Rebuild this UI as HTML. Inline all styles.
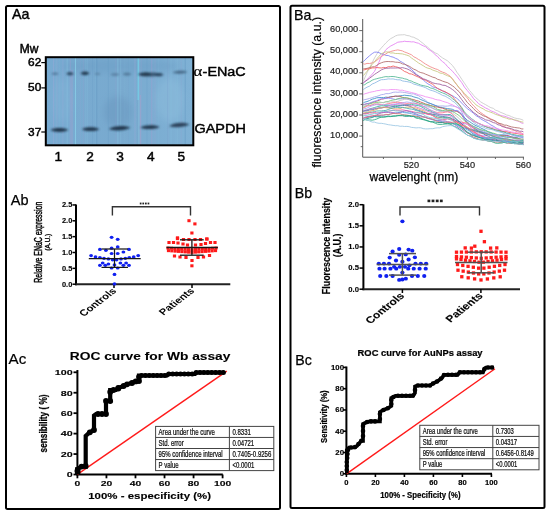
<!DOCTYPE html><html><head><meta charset='utf-8'><style>html,body{margin:0;padding:0;background:#fff;}svg{display:block;font-family:"Liberation Sans",sans-serif;will-change:transform;}</style></head><body>
<svg width='550' height='514' viewBox='0 0 550 514'>
<rect x='6' y='6' width='274' height='503' rx='1.5' fill='none' stroke='#000' stroke-width='2'/>
<rect x='290.5' y='5.7' width='254' height='502.3' rx='1.5' fill='none' stroke='#000' stroke-width='2'/>
<text transform='translate(12.00,19.20)' font-size='14.3' font-weight='normal' text-anchor='start' fill='#000' stroke='#000' stroke-width='0.4' >Aa</text>
<text transform='translate(19.80,52.70)' font-size='12' font-weight='normal' text-anchor='start' fill='#000' stroke='#000' stroke-width='0.45' >Mw</text>
<text transform='translate(41.30,66.00) scale(1.08,1)' font-size='11' font-weight='normal' text-anchor='end' fill='#000' stroke='#000' stroke-width='0.45' >62</text>
<line x1='41.3' y1='62.6' x2='45' y2='62.6' stroke='#000' stroke-width='1.2'/>
<text transform='translate(41.30,91.40) scale(1.08,1)' font-size='11' font-weight='normal' text-anchor='end' fill='#000' stroke='#000' stroke-width='0.45' >50</text>
<line x1='41.3' y1='87.9' x2='45' y2='87.9' stroke='#000' stroke-width='1.2'/>
<text transform='translate(41.30,136.00) scale(1.08,1)' font-size='11' font-weight='normal' text-anchor='end' fill='#000' stroke='#000' stroke-width='0.45' >37</text>
<line x1='41.3' y1='132' x2='45' y2='132' stroke='#000' stroke-width='1.2'/>
<defs><filter id='blur1' x='-50%' y='-100%' width='200%' height='300%'><feGaussianBlur stdDeviation='1.3 1.0'/></filter><filter id='blur2' x='-50%' y='-50%' width='200%' height='200%'><feGaussianBlur stdDeviation='3'/></filter><linearGradient id='blotg' x1='0' y1='0' x2='1' y2='0'><stop offset='0' stop-color='#78abd2'/><stop offset='0.5' stop-color='#79aacf'/><stop offset='1' stop-color='#7fb1d5'/></linearGradient></defs>
<rect x='45.8' y='57.2' width='147.5' height='88.1' fill='url(#blotg)'/>
<g filter='url(#blur2)' opacity='0.55'><ellipse cx='118' cy='112' rx='14' ry='16' fill='#6a98c0'/><ellipse cx='62' cy='100' rx='10' ry='22' fill='#80b2d6'/><ellipse cx='170' cy='100' rx='14' ry='22' fill='#8cbcdc'/><ellipse cx='120' cy='66' rx='60' ry='7' fill='#6d9fc6'/></g>
<line x1='139.7' y1='58' x2='139.7' y2='145' stroke='#8cc8e4' stroke-width='1.09' opacity='0.21'/>
<line x1='67.2' y1='58' x2='67.2' y2='145' stroke='#8cc8e4' stroke-width='1.04' opacity='0.37'/>
<line x1='59.6' y1='58' x2='59.6' y2='145' stroke='#86c0dc' stroke-width='0.53' opacity='0.17'/>
<line x1='80.7' y1='58' x2='80.7' y2='145' stroke='#a49cd0' stroke-width='0.52' opacity='0.20'/>
<line x1='141.2' y1='58' x2='141.2' y2='145' stroke='#a49cd0' stroke-width='0.84' opacity='0.26'/>
<line x1='87.3' y1='58' x2='87.3' y2='145' stroke='#8cc8e4' stroke-width='1.11' opacity='0.19'/>
<line x1='108.3' y1='58' x2='108.3' y2='145' stroke='#5f95c0' stroke-width='0.62' opacity='0.39'/>
<line x1='95.8' y1='58' x2='95.8' y2='145' stroke='#8cc8e4' stroke-width='0.80' opacity='0.24'/>
<line x1='96.9' y1='58' x2='96.9' y2='145' stroke='#5f95c0' stroke-width='1.15' opacity='0.33'/>
<line x1='124.8' y1='58' x2='124.8' y2='145' stroke='#86c0dc' stroke-width='0.56' opacity='0.22'/>
<line x1='138.2' y1='58' x2='138.2' y2='145' stroke='#5f95c0' stroke-width='0.96' opacity='0.33'/>
<line x1='53.6' y1='58' x2='53.6' y2='145' stroke='#9fa8d8' stroke-width='1.12' opacity='0.40'/>
<line x1='171.0' y1='58' x2='171.0' y2='145' stroke='#8cc8e4' stroke-width='0.80' opacity='0.26'/>
<line x1='167.9' y1='58' x2='167.9' y2='145' stroke='#9fa8d8' stroke-width='0.80' opacity='0.20'/>
<line x1='85.7' y1='58' x2='85.7' y2='145' stroke='#8cc8e4' stroke-width='0.99' opacity='0.19'/>
<line x1='152.7' y1='58' x2='152.7' y2='145' stroke='#9fa8d8' stroke-width='0.87' opacity='0.22'/>
<line x1='181.2' y1='58' x2='181.2' y2='145' stroke='#a49cd0' stroke-width='0.68' opacity='0.23'/>
<line x1='158.4' y1='58' x2='158.4' y2='145' stroke='#8cc8e4' stroke-width='0.68' opacity='0.16'/>
<line x1='92.7' y1='58' x2='92.7' y2='145' stroke='#5f95c0' stroke-width='0.55' opacity='0.38'/>
<line x1='129.2' y1='58' x2='129.2' y2='145' stroke='#5f95c0' stroke-width='0.67' opacity='0.27'/>
<line x1='175.3' y1='58' x2='175.3' y2='145' stroke='#86c0dc' stroke-width='0.61' opacity='0.18'/>
<line x1='155.0' y1='58' x2='155.0' y2='145' stroke='#a49cd0' stroke-width='0.71' opacity='0.30'/>
<line x1='177.2' y1='58' x2='177.2' y2='145' stroke='#86c0dc' stroke-width='0.79' opacity='0.40'/>
<line x1='67.1' y1='58' x2='67.1' y2='145' stroke='#86c0dc' stroke-width='0.57' opacity='0.16'/>
<line x1='62.9' y1='58' x2='62.9' y2='145' stroke='#9fa8d8' stroke-width='1.13' opacity='0.26'/>
<line x1='56.2' y1='58' x2='56.2' y2='145' stroke='#86c0dc' stroke-width='0.98' opacity='0.27'/>
<line x1='83.5' y1='58' x2='83.5' y2='145' stroke='#a49cd0' stroke-width='1.19' opacity='0.15'/>
<line x1='151.5' y1='58' x2='151.5' y2='145' stroke='#a49cd0' stroke-width='1.10' opacity='0.34'/>
<line x1='96.3' y1='58' x2='96.3' y2='145' stroke='#5f95c0' stroke-width='0.85' opacity='0.26'/>
<line x1='185.3' y1='58' x2='185.3' y2='145' stroke='#5f95c0' stroke-width='1.28' opacity='0.34'/>
<line x1='120.6' y1='58' x2='120.6' y2='145' stroke='#8cc8e4' stroke-width='1.20' opacity='0.22'/>
<line x1='139.6' y1='58' x2='139.6' y2='145' stroke='#a49cd0' stroke-width='0.66' opacity='0.24'/>
<line x1='70.4' y1='58' x2='70.4' y2='145' stroke='#a49cd0' stroke-width='1.23' opacity='0.30'/>
<line x1='117.8' y1='58' x2='117.8' y2='145' stroke='#8cc8e4' stroke-width='1.24' opacity='0.37'/>
<line x1='167.6' y1='58' x2='167.6' y2='145' stroke='#5f95c0' stroke-width='0.69' opacity='0.21'/>
<line x1='129.3' y1='58' x2='129.3' y2='145' stroke='#8cc8e4' stroke-width='0.57' opacity='0.27'/>
<line x1='57.0' y1='58' x2='57.0' y2='145' stroke='#a49cd0' stroke-width='1.11' opacity='0.18'/>
<line x1='115.9' y1='58' x2='115.9' y2='145' stroke='#a49cd0' stroke-width='0.63' opacity='0.28'/>
<line x1='135.0' y1='58' x2='135.0' y2='145' stroke='#9fa8d8' stroke-width='1.24' opacity='0.34'/>
<line x1='147.0' y1='58' x2='147.0' y2='145' stroke='#5f95c0' stroke-width='0.82' opacity='0.32'/>
<line x1='75.5' y1='58' x2='75.5' y2='145' stroke='#8ad2ea' stroke-width='0.9' opacity='0.8'/>
<line x1='72' y1='70' x2='72' y2='145' stroke='#b69ac8' stroke-width='0.7' opacity='0.7'/>
<line x1='138.2' y1='58' x2='138.2' y2='100' stroke='#78d8ee' stroke-width='1.1' opacity='0.9'/>
<line x1='138.6' y1='100' x2='138.6' y2='145' stroke='#90c8e0' stroke-width='0.8' opacity='0.6'/>
<line x1='140.5' y1='95' x2='140.5' y2='145' stroke='#b89ac8' stroke-width='0.6' opacity='0.6'/>
<g filter='url(#blur1)'>
<path d='M51.2,73.8 C53.1,72.0 56.9,72.0 58.8,73.8 C56.9,75.5 53.1,75.5 51.2,73.8Z' fill='#46698a' opacity='0.7'/>
<path d='M66.2,73.7 C68.1,71.5 71.9,71.5 73.8,73.7 C71.9,76.0 68.1,76.0 66.2,73.7Z' fill='#2a4560' opacity='0.9'/>
<path d='M80.5,73.3 C82.8,70.8 87.2,70.8 89.5,73.3 C87.2,75.8 82.8,75.8 80.5,73.3Z' fill='#213850' opacity='0.95'/>
<path d='M94.3,74.0 C95.9,72.4 99.1,72.4 100.7,74.0 C99.1,75.6 95.9,75.6 94.3,74.0Z' fill='#557a99' opacity='0.65'/>
<path d='M110.0,74.6 C112.5,72.7 117.5,72.7 120.0,74.6 C117.5,76.5 112.5,76.5 110.0,74.6Z' fill='#4b7091' opacity='0.7'/>
<path d='M122.5,74.2 C124.8,72.3 129.2,72.3 131.5,74.2 C129.2,76.1 124.8,76.1 122.5,74.2Z' fill='#46698a' opacity='0.75'/>
<path d='M137.5,74.5 C144.0,71.9 157.0,71.9 163.5,74.5 C157.0,77.1 144.0,77.1 137.5,74.5Z' fill='#2c4862' opacity='0.85'/>
<path d='M138.5,74.3 C141.8,71.5 148.2,71.5 151.5,74.3 C148.2,77.0 141.8,77.0 138.5,74.3Z' fill='#1f3549' opacity='0.85'/>
<path d='M154.5,74.8 C156.8,72.5 161.2,72.5 163.5,74.8 C161.2,77.0 156.8,77.0 154.5,74.8Z' fill='#28405a' opacity='0.8'/>
<path d='M172.5,72.6 C176.2,70.3 183.8,70.0 187.5,72.0 C183.8,74.0 176.2,74.3 172.5,72.6Z' fill='#3a5a78' opacity='0.85'/>
<path d='M50.4,130.0 C54.9,127.4 63.9,127.4 68.4,130.0 C63.9,132.6 54.9,132.6 50.4,130.0Z' fill='#1d3349' opacity='0.95'/>
<path d='M81.8,129.2 C86.2,126.7 95.0,126.7 99.4,129.2 C95.0,131.7 86.2,131.7 81.8,129.2Z' fill='#1d3349' opacity='0.95'/>
<path d='M108.6,129.0 C114.1,125.5 125.1,124.9 130.6,127.8 C125.1,130.7 114.1,131.3 108.6,129.0Z' fill='#1d3349' opacity='0.95'/>
<path d='M140.3,127.4 C145.2,124.6 154.8,124.4 159.7,127.0 C154.8,129.6 145.2,129.8 140.3,127.4Z' fill='#1d3349' opacity='0.95'/>
<path d='M169.0,126.0 C174.1,122.3 184.3,121.5 189.4,124.4 C184.3,127.3 174.1,128.1 169.0,126.0Z' fill='#22384f' opacity='0.9'/>
</g>
<rect x='45.8' y='57.2' width='147.5' height='88.1' fill='none' stroke='#000' stroke-width='2'/>
<text transform='translate(193.60,76.30) scale(1.15,1)' font-size='14.5' font-weight='normal' text-anchor='start' fill='#000' stroke='#000' stroke-width='0.25' font-family='"Liberation Serif", serif'>&#945;</text>
<text transform='translate(202.60,76.30) scale(1.05,1)' font-size='13.7' font-weight='normal' text-anchor='start' fill='#000' stroke='#000' stroke-width='0.45' >-ENaC</text>
<text transform='translate(194.40,133.10) scale(1.08,1)' font-size='13.4' font-weight='normal' text-anchor='start' fill='#000' stroke='#000' stroke-width='0.45' >GAPDH</text>
<text transform='translate(58.30,160.80) scale(1.05,1)' font-size='13' font-weight='normal' text-anchor='middle' fill='#000' stroke='#000' stroke-width='0.45' >1</text>
<text transform='translate(90.00,160.80) scale(1.05,1)' font-size='13' font-weight='normal' text-anchor='middle' fill='#000' stroke='#000' stroke-width='0.45' >2</text>
<text transform='translate(120.00,160.80) scale(1.05,1)' font-size='13' font-weight='normal' text-anchor='middle' fill='#000' stroke='#000' stroke-width='0.45' >3</text>
<text transform='translate(150.70,160.80) scale(1.05,1)' font-size='13' font-weight='normal' text-anchor='middle' fill='#000' stroke='#000' stroke-width='0.45' >4</text>
<text transform='translate(181.30,160.80) scale(1.05,1)' font-size='13' font-weight='normal' text-anchor='middle' fill='#000' stroke='#000' stroke-width='0.45' >5</text>
<text transform='translate(10.80,205.00)' font-size='14.5' font-weight='normal' text-anchor='start' fill='#000' stroke='#000' stroke-width='0.25' >Ab</text>
<text transform='translate(42.00,242.20) scale(1.48,1) rotate(-90)' font-size='6.95' font-weight='normal' text-anchor='middle' fill='#000' stroke='#000' stroke-width='0.3' >Relative ENaC expression</text>
<text transform='translate(50.40,242.20) scale(1.1,1) rotate(-90)' font-size='6.5' font-weight='normal' text-anchor='middle' fill='#000' stroke='#000' stroke-width='0.3' >(A.U.)</text>
<line x1='76' y1='204.4' x2='76' y2='285.2' stroke='#000' stroke-width='2'/>
<line x1='75' y1='284.2' x2='230.3' y2='284.2' stroke='#222' stroke-width='2'/>
<line x1='72.5' y1='284.20' x2='76' y2='284.20' stroke='#000' stroke-width='1.5'/>
<text transform='translate(72.30,286.60) scale(1.16,1)' font-size='6.4' font-weight='bold' text-anchor='end' fill='#000' stroke='#000' stroke-width='0.1' >0.0</text>
<line x1='72.5' y1='268.35' x2='76' y2='268.35' stroke='#000' stroke-width='1.5'/>
<text transform='translate(72.30,270.75) scale(1.16,1)' font-size='6.4' font-weight='bold' text-anchor='end' fill='#000' stroke='#000' stroke-width='0.1' >0.5</text>
<line x1='72.5' y1='252.50' x2='76' y2='252.50' stroke='#000' stroke-width='1.5'/>
<text transform='translate(72.30,254.90) scale(1.16,1)' font-size='6.4' font-weight='bold' text-anchor='end' fill='#000' stroke='#000' stroke-width='0.1' >1.0</text>
<line x1='72.5' y1='236.65' x2='76' y2='236.65' stroke='#000' stroke-width='1.5'/>
<text transform='translate(72.30,239.05) scale(1.16,1)' font-size='6.4' font-weight='bold' text-anchor='end' fill='#000' stroke='#000' stroke-width='0.1' >1.5</text>
<line x1='72.5' y1='220.80' x2='76' y2='220.80' stroke='#000' stroke-width='1.5'/>
<text transform='translate(72.30,223.20) scale(1.16,1)' font-size='6.4' font-weight='bold' text-anchor='end' fill='#000' stroke='#000' stroke-width='0.1' >2.0</text>
<line x1='72.5' y1='204.95' x2='76' y2='204.95' stroke='#000' stroke-width='1.5'/>
<text transform='translate(72.30,207.35) scale(1.16,1)' font-size='6.4' font-weight='bold' text-anchor='end' fill='#000' stroke='#000' stroke-width='0.1' >2.5</text>
<line x1='114' y1='284' x2='114' y2='288' stroke='#000' stroke-width='1.5'/>
<line x1='192' y1='284' x2='192' y2='288' stroke='#000' stroke-width='1.5'/>
<text transform='translate(117.00,291.50) scale(1.3,1) rotate(-45)' font-size='8.8' font-weight='bold' text-anchor='end' fill='#000' >Controls</text>
<text transform='translate(195.00,291.50) scale(1.3,1) rotate(-45)' font-size='8.8' font-weight='bold' text-anchor='end' fill='#000' >Patients</text>
<path d='M112.4 215.4 V206.7 H190.5 V215.4' fill='none' stroke='#333' stroke-width='1.4'/>
<rect x='139.8' y='202.6' width='1.7' height='1.8' fill='#222'/>
<rect x='142.4' y='202.6' width='1.7' height='1.8' fill='#222'/>
<rect x='145.0' y='202.6' width='1.7' height='1.8' fill='#222'/>
<rect x='147.6' y='202.6' width='1.7' height='1.8' fill='#222'/>
<ellipse cx='111.6' cy='237.3' rx='1.9' ry='1.6' fill='#1020f0'/>
<ellipse cx='117.7' cy='239.3' rx='1.9' ry='1.6' fill='#1020f0'/>
<ellipse cx='117.7' cy='246.9' rx='1.9' ry='1.6' fill='#1020f0'/>
<ellipse cx='111.6' cy='248.2' rx='1.9' ry='1.6' fill='#1020f0'/>
<ellipse cx='99.9' cy='249.4' rx='1.9' ry='1.6' fill='#1020f0'/>
<ellipse cx='129' cy='249.4' rx='1.9' ry='1.6' fill='#1020f0'/>
<ellipse cx='105.9' cy='250.3' rx='1.9' ry='1.6' fill='#1020f0'/>
<ellipse cx='123.4' cy='252' rx='1.9' ry='1.6' fill='#1020f0'/>
<ellipse cx='111.6' cy='253.5' rx='1.9' ry='1.6' fill='#1020f0'/>
<ellipse cx='117.7' cy='253.5' rx='1.9' ry='1.6' fill='#1020f0'/>
<ellipse cx='91.1' cy='255.6' rx='1.9' ry='1.6' fill='#1020f0'/>
<ellipse cx='138.2' cy='255.6' rx='1.9' ry='1.6' fill='#1020f0'/>
<ellipse cx='95.5' cy='256.9' rx='1.9' ry='1.6' fill='#1020f0'/>
<ellipse cx='133.7' cy='256.9' rx='1.9' ry='1.6' fill='#1020f0'/>
<ellipse cx='99.9' cy='257.5' rx='1.9' ry='1.6' fill='#1020f0'/>
<ellipse cx='129.3' cy='257.5' rx='1.9' ry='1.6' fill='#1020f0'/>
<ellipse cx='104' cy='258.3' rx='1.9' ry='1.6' fill='#1020f0'/>
<ellipse cx='125.3' cy='258.3' rx='1.9' ry='1.6' fill='#1020f0'/>
<ellipse cx='108.4' cy='258.9' rx='1.9' ry='1.6' fill='#1020f0'/>
<ellipse cx='121' cy='258.9' rx='1.9' ry='1.6' fill='#1020f0'/>
<ellipse cx='112.6' cy='259.8' rx='1.9' ry='1.6' fill='#1020f0'/>
<ellipse cx='116.6' cy='259.8' rx='1.9' ry='1.6' fill='#1020f0'/>
<ellipse cx='102.7' cy='263' rx='1.9' ry='1.6' fill='#1020f0'/>
<ellipse cx='120.4' cy='263' rx='1.9' ry='1.6' fill='#1020f0'/>
<ellipse cx='126.1' cy='263' rx='1.9' ry='1.6' fill='#1020f0'/>
<ellipse cx='108.4' cy='264' rx='1.9' ry='1.6' fill='#1020f0'/>
<ellipse cx='99.9' cy='265.3' rx='1.9' ry='1.6' fill='#1020f0'/>
<ellipse cx='105.3' cy='265.3' rx='1.9' ry='1.6' fill='#1020f0'/>
<ellipse cx='123.4' cy='265.3' rx='1.9' ry='1.6' fill='#1020f0'/>
<ellipse cx='129' cy='265.3' rx='1.9' ry='1.6' fill='#1020f0'/>
<ellipse cx='114.5' cy='264.9' rx='1.9' ry='1.6' fill='#1020f0'/>
<ellipse cx='111.6' cy='268' rx='1.9' ry='1.6' fill='#1020f0'/>
<ellipse cx='117.7' cy='268' rx='1.9' ry='1.6' fill='#1020f0'/>
<ellipse cx='114.5' cy='274.4' rx='1.9' ry='1.6' fill='#1020f0'/>
<ellipse cx='114.5' cy='283.9' rx='1.9' ry='1.6' fill='#1020f0'/>
<g stroke='#181818' stroke-width='1.25'><line x1='88.8' y1='258.5' x2='140.7' y2='258.5'/><line x1='101.5' y1='249' x2='128' y2='249'/><line x1='101.5' y1='267.4' x2='128' y2='267.4'/><line x1='114.5' y1='249' x2='114.5' y2='267.4'/></g>
<rect x='187.40' y='219.20' width='3.2' height='3.0' fill='#ff1a1a'/>
<rect x='193.30' y='222.40' width='3.2' height='3.0' fill='#ff1a1a'/>
<rect x='190.30' y='231.50' width='3.2' height='3.0' fill='#ff1a1a'/>
<rect x='175.90' y='236.30' width='3.2' height='3.0' fill='#ff1a1a'/>
<rect x='205.10' y='237.50' width='3.2' height='3.0' fill='#ff1a1a'/>
<rect x='175.90' y='237.10' width='3.2' height='3.0' fill='#ff1a1a'/>
<rect x='181.90' y='238.00' width='3.2' height='3.0' fill='#ff1a1a'/>
<rect x='187.40' y='238.00' width='3.2' height='3.0' fill='#ff1a1a'/>
<rect x='193.40' y='238.00' width='3.2' height='3.0' fill='#ff1a1a'/>
<rect x='198.90' y='238.00' width='3.2' height='3.0' fill='#ff1a1a'/>
<rect x='205.40' y='237.50' width='3.2' height='3.0' fill='#ff1a1a'/>
<rect x='167.40' y='241.00' width='3.2' height='3.0' fill='#ff1a1a'/>
<rect x='171.90' y='241.00' width='3.2' height='3.0' fill='#ff1a1a'/>
<rect x='176.40' y='241.50' width='3.2' height='3.0' fill='#ff1a1a'/>
<rect x='181.40' y='242.50' width='3.2' height='3.0' fill='#ff1a1a'/>
<rect x='185.90' y='243.50' width='3.2' height='3.0' fill='#ff1a1a'/>
<rect x='193.90' y='243.50' width='3.2' height='3.0' fill='#ff1a1a'/>
<rect x='199.40' y='243.00' width='3.2' height='3.0' fill='#ff1a1a'/>
<rect x='203.90' y='242.00' width='3.2' height='3.0' fill='#ff1a1a'/>
<rect x='208.90' y='241.00' width='3.2' height='3.0' fill='#ff1a1a'/>
<rect x='213.40' y='241.00' width='3.2' height='3.0' fill='#ff1a1a'/>
<rect x='172.90' y='254.50' width='3.2' height='3.0' fill='#ff1a1a'/>
<rect x='178.40' y='255.50' width='3.2' height='3.0' fill='#ff1a1a'/>
<rect x='184.40' y='256.00' width='3.2' height='3.0' fill='#ff1a1a'/>
<rect x='196.40' y='256.00' width='3.2' height='3.0' fill='#ff1a1a'/>
<rect x='201.90' y='255.50' width='3.2' height='3.0' fill='#ff1a1a'/>
<rect x='207.90' y='254.00' width='3.2' height='3.0' fill='#ff1a1a'/>
<rect x='190.40' y='259.00' width='3.2' height='3.0' fill='#ff1a1a'/>
<rect x='190.30' y='264.30' width='3.2' height='3.0' fill='#ff1a1a'/>
<rect x='166.40' y='246.51' width='3.2' height='3.0' fill='#ff1a1a'/>
<rect x='169.83' y='246.76' width='3.2' height='3.0' fill='#ff1a1a'/>
<rect x='173.26' y='247.02' width='3.2' height='3.0' fill='#ff1a1a'/>
<rect x='176.69' y='247.28' width='3.2' height='3.0' fill='#ff1a1a'/>
<rect x='180.11' y='247.54' width='3.2' height='3.0' fill='#ff1a1a'/>
<rect x='183.54' y='247.79' width='3.2' height='3.0' fill='#ff1a1a'/>
<rect x='186.97' y='248.05' width='3.2' height='3.0' fill='#ff1a1a'/>
<rect x='190.40' y='248.29' width='3.2' height='3.0' fill='#ff1a1a'/>
<rect x='193.83' y='248.04' width='3.2' height='3.0' fill='#ff1a1a'/>
<rect x='197.26' y='247.78' width='3.2' height='3.0' fill='#ff1a1a'/>
<rect x='200.69' y='247.52' width='3.2' height='3.0' fill='#ff1a1a'/>
<rect x='204.11' y='247.26' width='3.2' height='3.0' fill='#ff1a1a'/>
<rect x='207.54' y='247.01' width='3.2' height='3.0' fill='#ff1a1a'/>
<rect x='210.97' y='246.75' width='3.2' height='3.0' fill='#ff1a1a'/>
<rect x='214.40' y='246.50' width='3.2' height='3.0' fill='#ff1a1a'/>
<rect x='166.90' y='249.14' width='3.2' height='3.0' fill='#ff1a1a'/>
<rect x='170.26' y='249.40' width='3.2' height='3.0' fill='#ff1a1a'/>
<rect x='173.61' y='249.65' width='3.2' height='3.0' fill='#ff1a1a'/>
<rect x='176.97' y='249.90' width='3.2' height='3.0' fill='#ff1a1a'/>
<rect x='180.33' y='250.15' width='3.2' height='3.0' fill='#ff1a1a'/>
<rect x='183.69' y='250.40' width='3.2' height='3.0' fill='#ff1a1a'/>
<rect x='187.04' y='250.66' width='3.2' height='3.0' fill='#ff1a1a'/>
<rect x='190.40' y='250.89' width='3.2' height='3.0' fill='#ff1a1a'/>
<rect x='193.76' y='250.64' width='3.2' height='3.0' fill='#ff1a1a'/>
<rect x='197.11' y='250.39' width='3.2' height='3.0' fill='#ff1a1a'/>
<rect x='200.47' y='250.14' width='3.2' height='3.0' fill='#ff1a1a'/>
<rect x='203.83' y='249.89' width='3.2' height='3.0' fill='#ff1a1a'/>
<rect x='207.19' y='249.63' width='3.2' height='3.0' fill='#ff1a1a'/>
<rect x='210.54' y='249.38' width='3.2' height='3.0' fill='#ff1a1a'/>
<rect x='213.90' y='249.13' width='3.2' height='3.0' fill='#ff1a1a'/>
<g stroke='#181818' stroke-width='1.3'><line x1='166.5' y1='247.5' x2='217.9' y2='247.5'/><line x1='180' y1='239.8' x2='203.7' y2='239.8'/><line x1='180' y1='255.2' x2='203.7' y2='255.2'/><line x1='191.9' y1='239.8' x2='191.9' y2='255.2'/></g>
<text transform='translate(8.50,363.80) scale(1.05,1)' font-size='14.5' font-weight='normal' text-anchor='start' fill='#000' stroke='#000' stroke-width='0.2' >Ac</text>
<text transform='translate(69.80,360.30) scale(1.35,1)' font-size='10.2' font-weight='bold' text-anchor='start' fill='#000' stroke='#000' stroke-width='0.1' >ROC curve for Wb assay</text>
<line x1='77.4' y1='370' x2='77.4' y2='475.3' stroke='#000' stroke-width='2'/>
<line x1='76.4' y1='474.5' x2='222.8' y2='474.5' stroke='#000' stroke-width='2'/>
<line x1='73.5' y1='474.50' x2='77.4' y2='474.50' stroke='#000' stroke-width='1.8'/>
<text transform='translate(72.70,477.30) scale(1.4,1)' font-size='7.7' font-weight='bold' text-anchor='end' fill='#000' stroke='#000' stroke-width='0.1' >0</text>
<line x1='77.40' y1='474.5' x2='77.40' y2='478.3' stroke='#000' stroke-width='1.8'/>
<text transform='translate(77.40,485.60) scale(1.35,1)' font-size='7.7' font-weight='bold' text-anchor='middle' fill='#000' stroke='#000' stroke-width='0.1' >0</text>
<line x1='73.5' y1='454.06' x2='77.4' y2='454.06' stroke='#000' stroke-width='1.8'/>
<text transform='translate(72.70,456.86) scale(1.4,1)' font-size='7.7' font-weight='bold' text-anchor='end' fill='#000' stroke='#000' stroke-width='0.1' >20</text>
<line x1='106.44' y1='474.5' x2='106.44' y2='478.3' stroke='#000' stroke-width='1.8'/>
<text transform='translate(106.44,485.60) scale(1.35,1)' font-size='7.7' font-weight='bold' text-anchor='middle' fill='#000' stroke='#000' stroke-width='0.1' >20</text>
<line x1='73.5' y1='433.62' x2='77.4' y2='433.62' stroke='#000' stroke-width='1.8'/>
<text transform='translate(72.70,436.42) scale(1.4,1)' font-size='7.7' font-weight='bold' text-anchor='end' fill='#000' stroke='#000' stroke-width='0.1' >40</text>
<line x1='135.48' y1='474.5' x2='135.48' y2='478.3' stroke='#000' stroke-width='1.8'/>
<text transform='translate(135.48,485.60) scale(1.35,1)' font-size='7.7' font-weight='bold' text-anchor='middle' fill='#000' stroke='#000' stroke-width='0.1' >40</text>
<line x1='73.5' y1='413.18' x2='77.4' y2='413.18' stroke='#000' stroke-width='1.8'/>
<text transform='translate(72.70,415.98) scale(1.4,1)' font-size='7.7' font-weight='bold' text-anchor='end' fill='#000' stroke='#000' stroke-width='0.1' >60</text>
<line x1='164.52' y1='474.5' x2='164.52' y2='478.3' stroke='#000' stroke-width='1.8'/>
<text transform='translate(164.52,485.60) scale(1.35,1)' font-size='7.7' font-weight='bold' text-anchor='middle' fill='#000' stroke='#000' stroke-width='0.1' >60</text>
<line x1='73.5' y1='392.74' x2='77.4' y2='392.74' stroke='#000' stroke-width='1.8'/>
<text transform='translate(72.70,395.54) scale(1.4,1)' font-size='7.7' font-weight='bold' text-anchor='end' fill='#000' stroke='#000' stroke-width='0.1' >80</text>
<line x1='193.56' y1='474.5' x2='193.56' y2='478.3' stroke='#000' stroke-width='1.8'/>
<text transform='translate(193.56,485.60) scale(1.35,1)' font-size='7.7' font-weight='bold' text-anchor='middle' fill='#000' stroke='#000' stroke-width='0.1' >80</text>
<line x1='73.5' y1='372.30' x2='77.4' y2='372.30' stroke='#000' stroke-width='1.8'/>
<text transform='translate(72.70,375.10) scale(1.4,1)' font-size='7.7' font-weight='bold' text-anchor='end' fill='#000' stroke='#000' stroke-width='0.1' >100</text>
<line x1='222.60' y1='474.5' x2='222.60' y2='478.3' stroke='#000' stroke-width='1.8'/>
<text transform='translate(222.60,485.60) scale(1.35,1)' font-size='7.7' font-weight='bold' text-anchor='middle' fill='#000' stroke='#000' stroke-width='0.1' >100</text>
<text transform='translate(46.60,423.40) scale(1.3,1) rotate(-90)' font-size='8.3' font-weight='bold' text-anchor='middle' fill='#000' stroke='#000' stroke-width='0.2' >sensibility ( %)</text>
<text transform='translate(88.20,499.00) scale(1.35,1)' font-size='8.5' font-weight='bold' text-anchor='start' fill='#000' stroke='#000' stroke-width='0.1' >100% - especificity (%)</text>
<line x1='77.4' y1='474.3' x2='226.8' y2='371.1' stroke='#ff1a1a' stroke-width='1.4'/>
<path d='M77.4,474.3 V469 L81.5,466.6 H85.7 V436 L89.8,432.3 L94,430 V415.5 L96,414 H106 V401 H110.2 V390 H116 L118.3,388 L123.6,386 L127,384.3 L132,383 L135.7,381.4 L139,381 V375.5 H167 L168.4,374 H195 L197,372.5 H223.5' fill='none' stroke='#000' stroke-width='4.2' stroke-linejoin='miter'/>
<rect x='75' y='467.3' width='5.4' height='7' fill='#000'/>
<circle cx='77.4' cy='471.0' r='2.9' fill='#000'/>
<circle cx='81.5' cy='466.6' r='2.9' fill='#000'/>
<circle cx='85.7' cy='466.0' r='2.9' fill='#000'/>
<circle cx='89.8' cy='432.3' r='2.9' fill='#000'/>
<circle cx='94.0' cy='430.0' r='2.9' fill='#000'/>
<circle cx='98.0' cy='414.0' r='2.9' fill='#000'/>
<circle cx='102.0' cy='414.0' r='2.9' fill='#000'/>
<circle cx='106.0' cy='414.0' r='2.9' fill='#000'/>
<circle cx='106.0' cy='401.0' r='2.9' fill='#000'/>
<circle cx='110.2' cy='401.0' r='2.9' fill='#000'/>
<circle cx='110.2' cy='392.0' r='2.9' fill='#000'/>
<circle cx='113.5' cy='390.0' r='2.9' fill='#000'/>
<circle cx='118.3' cy='388.0' r='2.9' fill='#000'/>
<circle cx='118.3' cy='388.5' r='2.9' fill='#000'/>
<circle cx='123.6' cy='386.0' r='2.9' fill='#000'/>
<circle cx='127.0' cy='384.3' r='2.9' fill='#000'/>
<circle cx='132.0' cy='383.0' r='2.9' fill='#000'/>
<circle cx='135.7' cy='381.4' r='2.9' fill='#000'/>
<circle cx='139.0' cy='381.0' r='2.9' fill='#000'/>
<circle cx='139.0' cy='377.0' r='2.9' fill='#000'/>
<circle cx='141.5' cy='375.5' r='2.5' fill='#000'/>
<circle cx='145.4' cy='375.5' r='2.5' fill='#000'/>
<circle cx='149.3' cy='375.5' r='2.5' fill='#000'/>
<circle cx='153.2' cy='375.5' r='2.5' fill='#000'/>
<circle cx='157.1' cy='375.5' r='2.5' fill='#000'/>
<circle cx='161.0' cy='375.5' r='2.5' fill='#000'/>
<circle cx='164.9' cy='375.5' r='2.5' fill='#000'/>
<circle cx='168.8' cy='374.0' r='2.5' fill='#000'/>
<circle cx='172.7' cy='374.0' r='2.5' fill='#000'/>
<circle cx='176.6' cy='374.0' r='2.5' fill='#000'/>
<circle cx='180.5' cy='374.0' r='2.5' fill='#000'/>
<circle cx='184.4' cy='374.0' r='2.5' fill='#000'/>
<circle cx='188.3' cy='374.0' r='2.5' fill='#000'/>
<circle cx='192.2' cy='374.0' r='2.5' fill='#000'/>
<circle cx='196.1' cy='372.5' r='2.5' fill='#000'/>
<circle cx='200.0' cy='372.5' r='2.5' fill='#000'/>
<circle cx='203.9' cy='372.5' r='2.5' fill='#000'/>
<circle cx='207.8' cy='372.5' r='2.5' fill='#000'/>
<circle cx='211.7' cy='372.5' r='2.5' fill='#000'/>
<circle cx='215.6' cy='372.5' r='2.5' fill='#000'/>
<circle cx='219.5' cy='372.5' r='2.5' fill='#000'/>
<circle cx='223.4' cy='372.5' r='2.5' fill='#000'/>
<rect x='155.6' y='426.4' width='118.20' height='44.20' fill='#fff' stroke='#444' stroke-width='1'/>
<line x1='155.6' y1='437.45' x2='273.8' y2='437.45' stroke='#444' stroke-width='1'/>
<line x1='155.6' y1='448.50' x2='273.8' y2='448.50' stroke='#444' stroke-width='1'/>
<line x1='155.6' y1='459.55' x2='273.8' y2='459.55' stroke='#444' stroke-width='1'/>
<line x1='229.4' y1='426.4' x2='229.4' y2='470.6' stroke='#444' stroke-width='1'/>
<text transform='translate(158.60,434.95) scale(0.72,1)' font-size='8.4' font-weight='normal' text-anchor='start' fill='#111' stroke='#111' stroke-width='0.25' >Area under the curve</text>
<text transform='translate(232.40,434.95) scale(0.72,1)' font-size='8.4' font-weight='normal' text-anchor='start' fill='#111' stroke='#111' stroke-width='0.25' >0.8331</text>
<text transform='translate(158.60,446.00) scale(0.72,1)' font-size='8.4' font-weight='normal' text-anchor='start' fill='#111' stroke='#111' stroke-width='0.25' >Std. error</text>
<text transform='translate(232.40,446.00) scale(0.72,1)' font-size='8.4' font-weight='normal' text-anchor='start' fill='#111' stroke='#111' stroke-width='0.25' >0.04721</text>
<text transform='translate(158.60,457.05) scale(0.72,1)' font-size='8.4' font-weight='normal' text-anchor='start' fill='#111' stroke='#111' stroke-width='0.25' >95% confidence interval</text>
<text transform='translate(232.40,457.05) scale(0.72,1)' font-size='8.4' font-weight='normal' text-anchor='start' fill='#111' stroke='#111' stroke-width='0.25' >0.7405-0.9256</text>
<text transform='translate(158.60,468.10) scale(0.72,1)' font-size='8.4' font-weight='normal' text-anchor='start' fill='#111' stroke='#111' stroke-width='0.25' >P value</text>
<text transform='translate(232.40,468.10) scale(0.72,1)' font-size='8.4' font-weight='normal' text-anchor='start' fill='#111' stroke='#111' stroke-width='0.25' >&lt;0.0001</text>
<text transform='translate(294.00,20.40)' font-size='14.2' font-weight='normal' text-anchor='start' fill='#000' stroke='#000' stroke-width='0.25' >Ba</text>
<text transform='translate(321.20,92.20) rotate(-90)' font-size='12.3' font-weight='normal' text-anchor='middle' fill='#000' stroke='#000' stroke-width='0.2' >fluorescence intensity (a.u.)</text>
<line x1='362.7' y1='19' x2='362.7' y2='157.2' stroke='#555' stroke-width='1'/>
<line x1='362.7' y1='157.2' x2='524' y2='157.2' stroke='#555' stroke-width='1'/>
<line x1='360.7' y1='146.65' x2='362.7' y2='146.65' stroke='#555' stroke-width='0.9'/>
<line x1='359.2' y1='136.10' x2='362.7' y2='136.10' stroke='#555' stroke-width='0.9'/>
<text transform='translate(358.20,137.70)' font-size='9.2' font-weight='normal' text-anchor='end' fill='#222' stroke='#222' stroke-width='0.2' >10,000</text>
<line x1='360.7' y1='125.55' x2='362.7' y2='125.55' stroke='#555' stroke-width='0.9'/>
<line x1='359.2' y1='115.00' x2='362.7' y2='115.00' stroke='#555' stroke-width='0.9'/>
<text transform='translate(358.20,116.60)' font-size='9.2' font-weight='normal' text-anchor='end' fill='#222' stroke='#222' stroke-width='0.2' >20,000</text>
<line x1='360.7' y1='104.45' x2='362.7' y2='104.45' stroke='#555' stroke-width='0.9'/>
<line x1='359.2' y1='93.90' x2='362.7' y2='93.90' stroke='#555' stroke-width='0.9'/>
<text transform='translate(358.20,95.50)' font-size='9.2' font-weight='normal' text-anchor='end' fill='#222' stroke='#222' stroke-width='0.2' >30,000</text>
<line x1='360.7' y1='83.35' x2='362.7' y2='83.35' stroke='#555' stroke-width='0.9'/>
<line x1='359.2' y1='72.80' x2='362.7' y2='72.80' stroke='#555' stroke-width='0.9'/>
<text transform='translate(358.20,74.40)' font-size='9.2' font-weight='normal' text-anchor='end' fill='#222' stroke='#222' stroke-width='0.2' >40,000</text>
<line x1='360.7' y1='62.25' x2='362.7' y2='62.25' stroke='#555' stroke-width='0.9'/>
<line x1='359.2' y1='51.70' x2='362.7' y2='51.70' stroke='#555' stroke-width='0.9'/>
<text transform='translate(358.20,53.30)' font-size='9.2' font-weight='normal' text-anchor='end' fill='#222' stroke='#222' stroke-width='0.2' >50,000</text>
<line x1='360.7' y1='41.15' x2='362.7' y2='41.15' stroke='#555' stroke-width='0.9'/>
<line x1='359.2' y1='30.60' x2='362.7' y2='30.60' stroke='#555' stroke-width='0.9'/>
<text transform='translate(358.20,32.20)' font-size='9.2' font-weight='normal' text-anchor='end' fill='#222' stroke='#222' stroke-width='0.2' >60,000</text>
<line x1='383.42' y1='157.2' x2='383.42' y2='159.0' stroke='#555' stroke-width='0.9'/>
<line x1='411.42' y1='157.2' x2='411.42' y2='159.7' stroke='#555' stroke-width='0.9'/>
<text transform='translate(411.42,168.00)' font-size='9.2' font-weight='normal' text-anchor='middle' fill='#222' stroke='#222' stroke-width='0.2' >520</text>
<line x1='439.42' y1='157.2' x2='439.42' y2='159.0' stroke='#555' stroke-width='0.9'/>
<line x1='467.42' y1='157.2' x2='467.42' y2='159.7' stroke='#555' stroke-width='0.9'/>
<text transform='translate(467.42,168.00)' font-size='9.2' font-weight='normal' text-anchor='middle' fill='#222' stroke='#222' stroke-width='0.2' >540</text>
<line x1='495.42' y1='157.2' x2='495.42' y2='159.0' stroke='#555' stroke-width='0.9'/>
<line x1='523.42' y1='157.2' x2='523.42' y2='159.7' stroke='#555' stroke-width='0.9'/>
<text transform='translate(523.42,168.00)' font-size='9.2' font-weight='normal' text-anchor='middle' fill='#222' stroke='#222' stroke-width='0.2' >560</text>
<text transform='translate(369.50,181.30)' font-size='12' font-weight='normal' text-anchor='start' fill='#000' stroke='#000' stroke-width='0.25' >wavelenght (nm)</text>
<g fill='none' stroke-width='0.85' opacity='0.9' stroke-linejoin='round'>
<path d='M363.3,99.9 L364.8,99.6 L367.0,99.2 L369.6,98.4 L372.2,97.7 L374.5,96.8 L376.8,96.4 L379.0,95.6 L381.3,94.7 L383.7,94.4 L385.9,93.6 L388.2,93.7 L390.7,93.2 L393.1,92.3 L395.5,92.1 L397.8,92.3 L400.1,92.0 L402.4,92.2 L404.6,92.5 L406.9,92.9 L409.2,93.4 L411.5,93.9 L413.8,93.8 L416.1,95.0 L418.4,95.6 L420.8,97.2 L423.2,98.9 L425.6,100.3 L427.9,102.4 L430.2,103.4 L432.8,104.4 L435.2,105.3 L437.6,106.0 L440.0,106.1 L442.5,105.9 L445.1,106.2 L447.6,106.1 L450.1,105.7 L452.4,106.0 L454.6,106.3 L456.8,107.1 L459.0,108.0 L461.8,112.1 L464.4,117.5 L467.4,121.6 L469.4,123.6 L471.4,125.2 L473.6,126.3 L476.0,127.4 L478.6,129.0 L480.8,129.9 L483.2,130.9 L485.7,132.2 L488.3,132.9 L490.9,133.9 L493.3,134.9 L495.4,135.6 L497.9,136.3 L500.0,136.6 L502.0,136.5 L504.1,137.1 L506.6,137.3 L508.9,137.2 L511.5,137.2 L514.3,137.0 L517.1,136.9 L519.7,136.9 L521.9,136.5 L523.4,136.7' stroke='#9a9ae8'/>
<path d='M363.3,103.0 L364.8,102.1 L367.0,101.6 L369.6,100.5 L372.2,99.2 L374.5,98.6 L376.8,97.8 L379.0,97.6 L381.3,97.5 L383.7,97.7 L385.9,97.1 L388.2,97.4 L390.7,96.6 L393.1,96.5 L395.5,96.2 L397.8,96.4 L400.1,95.8 L402.4,95.5 L404.6,95.2 L406.9,95.5 L409.2,95.7 L411.5,96.0 L413.8,96.9 L416.1,97.5 L418.4,98.2 L420.8,99.6 L423.2,100.5 L425.6,101.6 L427.9,102.8 L430.2,103.4 L432.8,104.5 L435.2,105.5 L437.6,106.4 L440.0,107.4 L442.5,107.5 L445.1,108.2 L447.6,108.6 L450.1,108.9 L452.4,109.3 L454.6,110.4 L456.8,110.8 L459.0,112.3 L461.8,114.5 L464.4,117.4 L467.4,120.3 L469.4,121.5 L471.4,122.9 L473.6,124.4 L476.0,125.7 L478.6,126.7 L480.8,128.0 L483.2,129.1 L485.7,130.3 L488.3,131.8 L490.9,132.5 L493.3,133.9 L495.4,134.5 L497.9,135.1 L500.0,134.8 L502.0,134.9 L504.1,134.9 L506.6,135.4 L508.9,136.3 L511.5,136.9 L514.3,137.6 L517.1,137.8 L519.7,138.9 L521.9,139.5 L523.4,139.7' stroke='#2080c0'/>
<path d='M363.3,104.5 L364.8,104.4 L367.0,103.6 L369.6,103.3 L372.2,102.5 L374.5,101.7 L376.8,101.1 L379.0,100.3 L381.3,99.2 L383.7,98.8 L385.9,98.2 L388.2,97.5 L390.7,97.1 L393.1,96.6 L395.5,96.1 L397.8,96.1 L400.1,96.3 L402.4,97.3 L404.6,97.8 L406.9,98.2 L409.2,98.6 L411.5,99.2 L413.8,99.6 L416.1,100.5 L418.4,101.0 L420.8,102.1 L423.2,103.0 L425.6,104.0 L427.9,104.6 L430.2,105.3 L432.8,106.1 L435.2,106.8 L437.6,107.1 L440.0,107.7 L442.5,108.2 L445.1,109.0 L447.6,110.1 L450.1,110.3 L452.4,110.7 L454.6,111.0 L456.8,111.4 L459.0,112.3 L461.8,115.3 L464.4,119.1 L467.4,122.8 L469.4,124.8 L471.4,126.4 L473.6,127.9 L476.0,129.2 L478.6,130.9 L480.8,131.5 L483.2,132.5 L485.7,133.4 L488.3,134.0 L490.9,134.5 L493.3,135.3 L495.4,135.6 L497.9,136.0 L500.0,135.7 L502.0,135.4 L504.1,135.6 L506.6,135.5 L508.9,135.9 L511.5,137.0 L514.3,137.8 L517.1,138.1 L519.7,138.8 L521.9,140.1 L523.4,140.3' stroke='#c04040'/>
<path d='M363.3,104.9 L364.8,104.2 L367.0,103.8 L369.6,103.1 L372.2,102.0 L374.5,101.2 L376.8,100.7 L379.0,99.4 L381.3,98.8 L383.7,98.6 L385.9,98.5 L388.2,98.2 L390.7,98.5 L393.1,98.9 L395.5,99.5 L397.8,98.9 L400.1,98.9 L402.4,98.7 L404.6,98.6 L406.9,99.1 L409.2,99.3 L411.5,100.2 L413.8,101.2 L416.1,102.0 L418.4,102.6 L420.8,103.7 L423.2,104.4 L425.6,105.5 L427.9,106.0 L430.2,106.9 L432.8,108.1 L435.2,109.4 L437.6,110.1 L440.0,110.7 L442.5,111.0 L445.1,111.2 L447.6,111.3 L450.1,111.8 L452.4,111.4 L454.6,110.9 L456.8,110.4 L459.0,111.3 L461.8,114.3 L464.4,119.2 L467.4,123.1 L469.4,125.0 L471.4,126.1 L473.6,127.2 L476.0,128.8 L478.6,129.5 L480.8,131.0 L483.2,132.1 L485.7,132.9 L488.3,134.3 L490.9,135.7 L493.3,136.6 L495.4,136.9 L497.9,137.3 L500.0,137.0 L502.0,136.3 L504.1,136.1 L506.6,136.3 L508.9,136.6 L511.5,137.6 L514.3,138.3 L517.1,139.4 L519.7,139.8 L521.9,140.8 L523.4,141.4' stroke='#8080ff'/>
<path d='M363.3,107.2 L364.8,106.5 L367.0,105.4 L369.6,104.0 L372.2,103.1 L374.5,102.7 L376.8,102.5 L379.0,102.1 L381.3,102.4 L383.7,102.7 L385.9,101.7 L388.2,101.5 L390.7,100.5 L393.1,100.0 L395.5,99.6 L397.8,98.9 L400.1,98.2 L402.4,97.7 L404.6,97.7 L406.9,97.8 L409.2,98.3 L411.5,99.4 L413.8,100.8 L416.1,101.8 L418.4,102.7 L420.8,103.7 L423.2,103.8 L425.6,104.5 L427.9,105.1 L430.2,105.7 L432.8,106.4 L435.2,107.8 L437.6,109.4 L440.0,109.9 L442.5,110.6 L445.1,110.0 L447.6,110.4 L450.1,110.2 L452.4,111.5 L454.6,112.7 L456.8,114.0 L459.0,115.5 L461.8,118.1 L464.4,120.8 L467.4,122.7 L469.4,124.3 L471.4,125.2 L473.6,126.6 L476.0,127.5 L478.6,128.7 L480.8,129.8 L483.2,130.2 L485.7,131.0 L488.3,131.7 L490.9,133.0 L493.3,133.2 L495.4,133.7 L497.9,134.9 L500.0,135.6 L502.0,136.2 L504.1,136.7 L506.6,137.2 L508.9,137.7 L511.5,137.7 L514.3,138.4 L517.1,138.6 L519.7,139.0 L521.9,139.2 L523.4,139.1' stroke='#60c060'/>
<path d='M363.3,105.6 L364.8,105.2 L367.0,105.4 L369.6,105.4 L372.2,104.8 L374.5,104.9 L376.8,104.0 L379.0,103.2 L381.3,102.6 L383.7,102.4 L385.9,101.8 L388.2,102.2 L390.7,102.0 L393.1,101.8 L395.5,101.8 L397.8,101.3 L400.1,100.5 L402.4,99.9 L404.6,99.3 L406.9,98.8 L409.2,99.9 L411.5,100.8 L413.8,102.5 L416.1,103.7 L418.4,104.6 L420.8,105.2 L423.2,106.2 L425.6,106.8 L427.9,107.0 L430.2,107.2 L432.8,108.6 L435.2,109.6 L437.6,110.7 L440.0,111.5 L442.5,111.7 L445.1,111.5 L447.6,111.4 L450.1,112.0 L452.4,113.1 L454.6,114.7 L456.8,116.4 L459.0,118.5 L461.8,121.2 L464.4,124.5 L467.4,127.7 L469.4,129.0 L471.4,130.4 L473.6,131.4 L476.0,132.0 L478.6,133.1 L480.8,133.5 L483.2,133.9 L485.7,134.1 L488.3,134.3 L490.9,134.8 L493.3,135.4 L495.4,135.8 L497.9,136.8 L500.0,137.6 L502.0,138.3 L504.1,139.4 L506.6,139.9 L508.9,140.6 L511.5,140.1 L514.3,140.1 L517.1,139.6 L519.7,139.3 L521.9,139.2 L523.4,138.8' stroke='#b8b8b8'/>
<path d='M363.3,107.9 L364.8,107.5 L367.0,106.0 L369.6,105.8 L372.2,104.9 L374.5,103.8 L376.8,104.2 L379.0,104.5 L381.3,104.4 L383.7,105.0 L385.9,104.2 L388.2,103.7 L390.7,103.2 L393.1,102.7 L395.5,102.5 L397.8,102.2 L400.1,102.5 L402.4,102.6 L404.6,103.0 L406.9,103.4 L409.2,103.2 L411.5,103.4 L413.8,103.8 L416.1,103.5 L418.4,104.2 L420.8,104.8 L423.2,106.5 L425.6,107.4 L427.9,108.7 L430.2,110.2 L432.8,111.0 L435.2,111.9 L437.6,112.6 L440.0,112.9 L442.5,112.8 L445.1,112.2 L447.6,111.9 L450.1,112.5 L452.4,114.3 L454.6,116.9 L456.8,120.0 L459.0,121.4 L461.8,122.3 L464.4,122.5 L467.4,123.3 L469.4,125.1 L471.4,126.8 L473.6,128.6 L476.0,130.5 L478.6,131.8 L480.8,132.6 L483.2,133.4 L485.7,134.4 L488.3,134.8 L490.9,135.7 L493.3,136.2 L495.4,137.0 L497.9,137.8 L500.0,138.3 L502.0,138.5 L504.1,139.3 L506.6,139.9 L508.9,140.1 L511.5,140.2 L514.3,140.6 L517.1,141.2 L519.7,141.6 L521.9,141.8 L523.4,142.0' stroke='#ff6080'/>
<path d='M363.3,109.1 L364.8,108.7 L367.0,108.1 L369.6,106.8 L372.2,105.8 L374.5,105.0 L376.8,104.6 L379.0,105.2 L381.3,105.1 L383.7,104.7 L385.9,104.8 L388.2,104.8 L390.7,104.8 L393.1,104.2 L395.5,104.0 L397.8,103.5 L400.1,103.3 L402.4,102.9 L404.6,102.4 L406.9,101.9 L409.2,102.3 L411.5,102.6 L413.8,103.3 L416.1,104.3 L418.4,104.8 L420.8,105.7 L423.2,106.6 L425.6,107.7 L427.9,108.9 L430.2,109.5 L432.8,111.1 L435.2,112.4 L437.6,113.6 L440.0,114.6 L442.5,115.1 L445.1,114.9 L447.6,114.6 L450.1,115.0 L452.4,116.1 L454.6,117.4 L456.8,119.2 L459.0,121.2 L461.8,123.3 L464.4,125.5 L467.4,127.8 L469.4,129.4 L471.4,131.3 L473.6,132.8 L476.0,134.4 L478.6,135.5 L480.8,135.6 L483.2,135.7 L485.7,135.5 L488.3,134.9 L490.9,134.5 L493.3,134.4 L495.4,134.7 L497.9,135.3 L500.0,136.3 L502.0,137.4 L504.1,138.8 L506.6,139.7 L508.9,140.3 L511.5,140.6 L514.3,140.3 L517.1,140.8 L519.7,141.2 L521.9,141.2 L523.4,141.3' stroke='#a0a0ff'/>
<path d='M363.3,110.4 L364.8,110.4 L367.0,109.9 L369.6,108.9 L372.2,108.2 L374.5,107.5 L376.8,106.8 L379.0,106.3 L381.3,105.8 L383.7,105.9 L385.9,105.3 L388.2,105.3 L390.7,106.0 L393.1,106.0 L395.5,105.4 L397.8,105.4 L400.1,105.5 L402.4,104.8 L404.6,104.6 L406.9,104.6 L409.2,104.6 L411.5,104.3 L413.8,104.9 L416.1,105.4 L418.4,105.7 L420.8,106.5 L423.2,107.8 L425.6,109.3 L427.9,110.4 L430.2,110.9 L432.8,112.4 L435.2,113.1 L437.6,114.2 L440.0,114.8 L442.5,114.6 L445.1,114.7 L447.6,114.6 L450.1,114.5 L452.4,116.0 L454.6,118.1 L456.8,119.5 L459.0,121.5 L461.8,123.9 L464.4,126.1 L467.4,128.3 L469.4,128.6 L471.4,129.4 L473.6,129.8 L476.0,130.0 L478.6,131.2 L480.8,132.0 L483.2,132.8 L485.7,133.3 L488.3,134.5 L490.9,135.1 L493.3,136.4 L495.4,137.1 L497.9,138.3 L500.0,138.7 L502.0,139.6 L504.1,140.1 L506.6,141.2 L508.9,141.1 L511.5,140.8 L514.3,141.1 L517.1,140.7 L519.7,140.5 L521.9,140.7 L523.4,140.4' stroke='#20b090'/>
<path d='M363.3,110.8 L364.8,110.5 L367.0,110.0 L369.6,109.1 L372.2,108.8 L374.5,108.6 L376.8,108.1 L379.0,107.9 L381.3,108.0 L383.7,107.4 L385.9,106.7 L388.2,106.3 L390.7,105.1 L393.1,104.9 L395.5,104.4 L397.8,104.1 L400.1,104.1 L402.4,103.9 L404.6,104.3 L406.9,105.0 L409.2,105.3 L411.5,105.6 L413.8,105.8 L416.1,106.8 L418.4,107.7 L420.8,108.5 L423.2,109.4 L425.6,110.4 L427.9,111.4 L430.2,112.1 L432.8,112.8 L435.2,114.0 L437.6,114.0 L440.0,114.4 L442.5,114.7 L445.1,115.1 L447.6,115.3 L450.1,115.9 L452.4,117.6 L454.6,119.5 L456.8,121.7 L459.0,123.4 L461.8,123.9 L464.4,123.3 L467.4,124.5 L469.4,126.1 L471.4,128.2 L473.6,130.7 L476.0,132.9 L478.6,134.4 L480.8,135.4 L483.2,136.4 L485.7,137.1 L488.3,137.4 L490.9,138.0 L493.3,138.5 L495.4,138.8 L497.9,139.2 L500.0,139.2 L502.0,138.7 L504.1,138.7 L506.6,138.6 L508.9,139.4 L511.5,139.8 L514.3,140.2 L517.1,140.6 L519.7,141.0 L521.9,141.6 L523.4,142.1' stroke='#d060d0'/>
<path d='M363.3,111.7 L364.8,111.0 L367.0,110.9 L369.6,110.0 L372.2,109.7 L374.5,109.1 L376.8,108.8 L379.0,108.0 L381.3,107.9 L383.7,107.5 L385.9,107.0 L388.2,107.4 L390.7,107.2 L393.1,106.5 L395.5,106.7 L397.8,106.3 L400.1,105.9 L402.4,105.6 L404.6,105.5 L406.9,105.4 L409.2,106.1 L411.5,107.1 L413.8,108.5 L416.1,109.5 L418.4,110.4 L420.8,111.0 L423.2,112.0 L425.6,112.8 L427.9,113.4 L430.2,113.5 L432.8,114.3 L435.2,114.7 L437.6,115.4 L440.0,116.2 L442.5,116.4 L445.1,116.8 L447.6,117.1 L450.1,117.8 L452.4,119.0 L454.6,120.0 L456.8,121.0 L459.0,121.6 L461.8,123.9 L464.4,126.3 L467.4,128.6 L469.4,129.2 L471.4,130.0 L473.6,130.4 L476.0,131.2 L478.6,131.9 L480.8,132.8 L483.2,133.5 L485.7,135.3 L488.3,136.2 L490.9,137.6 L493.3,138.2 L495.4,138.8 L497.9,140.2 L500.0,140.4 L502.0,140.5 L504.1,141.3 L506.6,141.5 L508.9,141.1 L511.5,141.9 L514.3,141.5 L517.1,141.6 L519.7,141.7 L521.9,142.4 L523.4,142.2' stroke='#4060a0'/>
<path d='M363.3,113.3 L364.8,112.5 L367.0,112.4 L369.6,111.5 L372.2,110.7 L374.5,110.3 L376.8,109.2 L379.0,108.4 L381.3,107.8 L383.7,107.3 L385.9,107.7 L388.2,107.9 L390.7,108.3 L393.1,108.7 L395.5,108.8 L397.8,108.9 L400.1,108.6 L402.4,107.6 L404.6,107.5 L406.9,107.0 L409.2,107.3 L411.5,107.1 L413.8,107.7 L416.1,108.0 L418.4,109.0 L420.8,109.9 L423.2,110.6 L425.6,112.0 L427.9,113.5 L430.2,114.4 L432.8,115.5 L435.2,117.0 L437.6,117.7 L440.0,117.6 L442.5,117.7 L445.1,117.9 L447.6,118.0 L450.1,118.3 L452.4,119.4 L454.6,121.3 L456.8,123.1 L459.0,124.6 L461.8,125.7 L464.4,125.6 L467.4,127.1 L469.4,128.4 L471.4,129.7 L473.6,131.9 L476.0,133.2 L478.6,135.3 L480.8,136.1 L483.2,136.9 L485.7,137.8 L488.3,138.9 L490.9,139.2 L493.3,139.7 L495.4,140.4 L497.9,140.8 L500.0,140.2 L502.0,140.3 L504.1,139.8 L506.6,140.0 L508.9,140.0 L511.5,140.6 L514.3,140.7 L517.1,141.3 L519.7,141.7 L521.9,141.4 L523.4,141.8' stroke='#e0a050'/>
<path d='M363.3,113.7 L364.8,113.5 L367.0,113.0 L369.6,112.5 L372.2,112.1 L374.5,111.6 L376.8,111.0 L379.0,110.9 L381.3,110.9 L383.7,110.6 L385.9,110.4 L388.2,109.5 L390.7,108.6 L393.1,107.8 L395.5,107.3 L397.8,107.4 L400.1,107.7 L402.4,107.4 L404.6,107.9 L406.9,108.2 L409.2,108.8 L411.5,109.1 L413.8,109.6 L416.1,110.6 L418.4,111.0 L420.8,111.9 L423.2,112.7 L425.6,113.1 L427.9,114.0 L430.2,114.5 L432.8,114.9 L435.2,115.9 L437.6,116.9 L440.0,117.4 L442.5,117.2 L445.1,117.6 L447.6,117.5 L450.1,117.9 L452.4,119.6 L454.6,121.5 L456.8,124.1 L459.0,125.6 L461.8,127.1 L464.4,127.9 L467.4,128.6 L469.4,130.1 L471.4,132.2 L473.6,134.3 L476.0,135.6 L478.6,137.0 L480.8,137.6 L483.2,137.6 L485.7,137.5 L488.3,138.0 L490.9,137.8 L493.3,137.7 L495.4,137.8 L497.9,137.7 L500.0,138.2 L502.0,138.4 L504.1,138.8 L506.6,139.0 L508.9,139.3 L511.5,140.1 L514.3,140.7 L517.1,141.2 L519.7,141.9 L521.9,141.9 L523.4,142.3' stroke='#30a0a0'/>
<path d='M363.3,113.6 L364.8,114.0 L367.0,113.7 L369.6,112.9 L372.2,113.0 L374.5,112.5 L376.8,112.9 L379.0,112.8 L381.3,112.3 L383.7,112.3 L385.9,111.9 L388.2,111.2 L390.7,110.8 L393.1,110.3 L395.5,110.1 L397.8,110.3 L400.1,110.2 L402.4,109.8 L404.6,110.2 L406.9,110.8 L409.2,111.0 L411.5,111.4 L413.8,111.9 L416.1,112.4 L418.4,112.6 L420.8,113.1 L423.2,113.4 L425.6,113.7 L427.9,114.5 L430.2,114.6 L432.8,115.7 L435.2,117.3 L437.6,118.6 L440.0,119.0 L442.5,119.6 L445.1,119.5 L447.6,118.9 L450.1,119.6 L452.4,119.8 L454.6,121.0 L456.8,121.9 L459.0,123.0 L461.8,124.9 L464.4,126.7 L467.4,128.0 L469.4,129.4 L471.4,130.9 L473.6,132.3 L476.0,133.3 L478.6,135.0 L480.8,135.5 L483.2,137.0 L485.7,137.8 L488.3,138.7 L490.9,139.7 L493.3,140.0 L495.4,140.5 L497.9,141.4 L500.0,141.8 L502.0,142.0 L504.1,142.0 L506.6,142.1 L508.9,142.2 L511.5,142.9 L514.3,143.1 L517.1,143.6 L519.7,143.9 L521.9,144.0 L523.4,144.2' stroke='#ff4090'/>
<path d='M363.3,115.8 L364.8,115.4 L367.0,115.3 L369.6,114.5 L372.2,114.2 L374.5,113.4 L376.8,113.4 L379.0,112.7 L381.3,112.0 L383.7,111.4 L385.9,111.6 L388.2,111.3 L390.7,110.7 L393.1,110.3 L395.5,110.9 L397.8,111.0 L400.1,111.0 L402.4,111.1 L404.6,112.0 L406.9,112.4 L409.2,112.1 L411.5,112.2 L413.8,112.6 L416.1,112.7 L418.4,113.2 L420.8,113.7 L423.2,114.4 L425.6,116.0 L427.9,116.9 L430.2,117.7 L432.8,118.0 L435.2,118.4 L437.6,119.1 L440.0,119.4 L442.5,118.8 L445.1,118.7 L447.6,118.7 L450.1,119.6 L452.4,120.5 L454.6,122.1 L456.8,124.3 L459.0,126.3 L461.8,128.0 L464.4,129.7 L467.4,131.6 L469.4,133.0 L471.4,134.3 L473.6,135.4 L476.0,136.4 L478.6,137.4 L480.8,137.7 L483.2,137.9 L485.7,137.8 L488.3,138.2 L490.9,138.3 L493.3,138.1 L495.4,138.1 L497.9,138.8 L500.0,139.3 L502.0,140.1 L504.1,140.8 L506.6,141.7 L508.9,141.3 L511.5,141.7 L514.3,141.4 L517.1,141.6 L519.7,142.0 L521.9,141.9 L523.4,141.7' stroke='#60c0d0'/>
<path d='M363.3,118.0 L364.8,117.2 L367.0,116.7 L369.6,116.2 L372.2,116.0 L374.5,115.6 L376.8,114.9 L379.0,113.8 L381.3,113.0 L383.7,112.5 L385.9,112.3 L388.2,112.5 L390.7,112.4 L393.1,112.5 L395.5,113.1 L397.8,112.7 L400.1,112.2 L402.4,111.5 L404.6,111.0 L406.9,110.6 L409.2,111.5 L411.5,112.0 L413.8,113.1 L416.1,114.0 L418.4,114.9 L420.8,115.7 L423.2,116.7 L425.6,117.3 L427.9,118.4 L430.2,118.9 L432.8,119.6 L435.2,120.2 L437.6,120.5 L440.0,120.7 L442.5,121.0 L445.1,120.9 L447.6,121.7 L450.1,122.0 L452.4,123.0 L454.6,124.7 L456.8,125.9 L459.0,127.5 L461.8,128.9 L464.4,131.0 L467.4,132.9 L469.4,133.6 L471.4,134.8 L473.6,135.5 L476.0,136.5 L478.6,137.1 L480.8,137.6 L483.2,138.5 L485.7,138.8 L488.3,139.4 L490.9,139.4 L493.3,139.7 L495.4,140.3 L497.9,140.8 L500.0,140.9 L502.0,141.3 L504.1,142.1 L506.6,142.0 L508.9,142.3 L511.5,143.1 L514.3,143.3 L517.1,143.4 L519.7,143.1 L521.9,143.7 L523.4,143.5' stroke='#9050c0'/>
<path d='M363.3,118.6 L364.8,118.1 L367.0,117.8 L369.6,116.8 L372.2,116.7 L374.5,116.4 L376.8,115.9 L379.0,115.7 L381.3,115.4 L383.7,115.2 L385.9,114.9 L388.2,114.6 L390.7,113.9 L393.1,113.4 L395.5,113.0 L397.8,113.1 L400.1,112.6 L402.4,112.3 L404.6,112.7 L406.9,112.9 L409.2,113.4 L411.5,113.7 L413.8,114.4 L416.1,114.9 L418.4,115.6 L420.8,115.9 L423.2,116.9 L425.6,117.5 L427.9,118.3 L430.2,118.8 L432.8,119.8 L435.2,120.2 L437.6,120.7 L440.0,121.2 L442.5,121.8 L445.1,121.9 L447.6,122.5 L450.1,122.9 L452.4,123.3 L454.6,124.1 L456.8,125.0 L459.0,125.4 L461.8,126.9 L464.4,128.3 L467.4,129.9 L469.4,131.1 L471.4,132.7 L473.6,133.9 L476.0,134.9 L478.6,135.8 L480.8,137.1 L483.2,137.7 L485.7,138.2 L488.3,139.2 L490.9,139.7 L493.3,140.9 L495.4,140.8 L497.9,141.2 L500.0,140.9 L502.0,141.3 L504.1,141.0 L506.6,140.8 L508.9,141.6 L511.5,142.3 L514.3,142.7 L517.1,143.4 L519.7,144.3 L521.9,144.4 L523.4,144.8' stroke='#5090e0'/>
<path d='M363.3,118.3 L364.8,117.9 L367.0,117.4 L369.6,116.6 L372.2,116.1 L374.5,115.4 L376.8,115.4 L379.0,115.2 L381.3,115.0 L383.7,115.1 L385.9,114.3 L388.2,114.7 L390.7,114.0 L393.1,113.5 L395.5,113.6 L397.8,113.8 L400.1,113.7 L402.4,114.6 L404.6,114.9 L406.9,115.2 L409.2,115.5 L411.5,115.9 L413.8,115.8 L416.1,116.2 L418.4,116.7 L420.8,117.1 L423.2,116.9 L425.6,117.3 L427.9,118.3 L430.2,118.7 L432.8,119.2 L435.2,120.4 L437.6,121.6 L440.0,122.3 L442.5,122.4 L445.1,122.3 L447.6,122.2 L450.1,122.4 L452.4,122.2 L454.6,122.3 L456.8,121.9 L459.0,123.0 L461.8,126.1 L464.4,129.6 L467.4,132.7 L469.4,134.1 L471.4,135.8 L473.6,137.1 L476.0,137.9 L478.6,139.0 L480.8,139.5 L483.2,140.1 L485.7,140.3 L488.3,141.0 L490.9,141.3 L493.3,141.8 L495.4,142.1 L497.9,142.0 L500.0,142.4 L502.0,142.5 L504.1,142.5 L506.6,142.8 L508.9,143.5 L511.5,143.3 L514.3,143.4 L517.1,143.8 L519.7,144.2 L521.9,144.5 L523.4,144.4' stroke='#e06060'/>
<path d='M363.3,120.4 L364.8,119.5 L367.0,118.7 L369.6,118.0 L372.2,117.5 L374.5,116.6 L376.8,116.8 L379.0,116.7 L381.3,116.9 L383.7,117.0 L385.9,116.8 L388.2,116.6 L390.7,116.6 L393.1,116.3 L395.5,116.0 L397.8,115.6 L400.1,115.7 L402.4,115.7 L404.6,116.3 L406.9,116.4 L409.2,116.2 L411.5,116.6 L413.8,116.3 L416.1,117.2 L418.4,117.1 L420.8,118.4 L423.2,119.1 L425.6,120.3 L427.9,121.1 L430.2,121.5 L432.8,121.7 L435.2,122.0 L437.6,122.5 L440.0,122.6 L442.5,122.5 L445.1,123.4 L447.6,123.4 L450.1,124.0 L452.4,125.5 L454.6,126.6 L456.8,127.4 L459.0,129.0 L461.8,130.6 L464.4,132.8 L467.4,135.2 L469.4,135.8 L471.4,136.7 L473.6,138.1 L476.0,138.7 L478.6,139.5 L480.8,139.8 L483.2,139.9 L485.7,139.6 L488.3,139.8 L490.9,140.3 L493.3,140.2 L495.4,140.1 L497.9,140.9 L500.0,141.5 L502.0,141.5 L504.1,142.3 L506.6,142.9 L508.9,142.5 L511.5,143.0 L514.3,142.8 L517.1,143.1 L519.7,142.6 L521.9,143.0 L523.4,143.0' stroke='#008878'/>
<path d='M363.3,120.1 L364.8,119.6 L367.0,120.1 L369.6,119.9 L372.2,120.2 L374.5,119.7 L376.8,119.0 L379.0,117.9 L381.3,117.2 L383.7,117.0 L385.9,116.7 L388.2,116.0 L390.7,116.3 L393.1,115.9 L395.5,116.0 L397.8,115.7 L400.1,115.3 L402.4,115.2 L404.6,115.3 L406.9,115.4 L409.2,115.6 L411.5,116.0 L413.8,116.7 L416.1,118.1 L418.4,118.5 L420.8,119.1 L423.2,119.7 L425.6,120.0 L427.9,120.7 L430.2,121.8 L432.8,122.2 L435.2,123.2 L437.6,124.2 L440.0,124.4 L442.5,124.3 L445.1,124.0 L447.6,123.9 L450.1,123.8 L452.4,123.8 L454.6,123.7 L456.8,124.0 L459.0,124.8 L461.8,126.9 L464.4,129.8 L467.4,132.5 L469.4,133.4 L471.4,134.9 L473.6,135.3 L476.0,136.4 L478.6,137.2 L480.8,138.1 L483.2,138.6 L485.7,140.3 L488.3,141.1 L490.9,141.3 L493.3,142.2 L495.4,143.1 L497.9,143.3 L500.0,143.1 L502.0,143.0 L504.1,142.3 L506.6,142.7 L508.9,142.5 L511.5,142.9 L514.3,143.7 L517.1,143.6 L519.7,144.0 L521.9,144.4 L523.4,144.5' stroke='#10a070'/>
<path d='M363.3,81.3 L364.8,77.8 L367.0,72.8 L369.6,67.6 L372.2,62.6 L374.5,58.0 L376.8,54.1 L379.0,50.6 L381.3,48.0 L383.7,45.3 L385.9,42.9 L388.2,40.7 L390.7,38.6 L393.1,37.4 L395.5,35.9 L397.8,35.1 L400.1,34.9 L402.4,34.8 L404.6,34.7 L406.9,35.5 L409.2,35.8 L411.5,36.8 L413.8,37.3 L416.1,38.5 L418.4,39.6 L420.8,41.7 L423.2,43.5 L425.6,45.6 L427.9,47.3 L430.2,49.5 L432.8,51.2 L435.2,52.9 L437.6,53.9 L440.0,56.1 L442.5,57.9 L445.1,59.4 L447.6,60.9 L450.1,63.2 L452.4,65.5 L454.6,68.4 L456.8,72.1 L459.0,75.0 L461.8,79.3 L464.4,83.1 L467.4,87.5 L469.4,90.4 L471.4,92.5 L473.6,95.4 L476.0,97.9 L478.6,100.0 L480.8,102.0 L483.2,103.4 L485.7,104.7 L488.3,106.3 L490.9,107.7 L493.3,108.3 L495.4,110.1 L497.9,110.9 L500.0,112.1 L502.0,112.9 L504.1,113.7 L506.6,115.0 L508.9,115.5 L511.5,116.7 L514.3,117.8 L517.1,118.6 L519.7,118.9 L521.9,119.6 L523.4,120.3' stroke='#c4c4c4'/>
<path d='M363.3,82.9 L364.8,81.7 L367.0,79.5 L369.6,77.0 L372.2,74.1 L374.5,71.4 L376.8,66.7 L379.0,62.1 L381.3,56.6 L383.7,52.9 L385.9,49.7 L388.2,47.8 L390.7,46.0 L393.1,44.8 L395.5,43.5 L397.8,42.2 L400.1,41.9 L402.4,41.7 L404.6,41.2 L406.9,41.6 L409.2,41.6 L411.5,41.9 L413.8,41.8 L416.1,42.7 L418.4,43.2 L420.8,44.6 L423.2,45.8 L425.6,46.7 L427.9,48.9 L430.2,50.4 L432.8,52.1 L435.2,54.8 L437.6,56.5 L440.0,59.4 L442.5,61.6 L445.1,63.6 L447.6,66.7 L450.1,68.9 L452.4,71.2 L454.6,73.7 L456.8,76.2 L459.0,79.1 L461.8,82.7 L464.4,87.0 L467.4,90.7 L469.4,93.0 L471.4,95.5 L473.6,98.7 L476.0,100.8 L478.6,103.7 L480.8,105.1 L483.2,106.5 L485.7,108.0 L488.3,109.2 L490.9,110.9 L493.3,111.7 L495.4,112.6 L497.9,114.1 L500.0,115.1 L502.0,115.9 L504.1,116.1 L506.6,116.9 L508.9,117.9 L511.5,118.7 L514.3,120.1 L517.1,120.9 L519.7,121.9 L521.9,123.1 L523.4,123.4' stroke='#e070f0'/>
<path d='M363.3,61.7 L364.8,60.1 L367.0,58.0 L369.6,55.7 L372.2,53.6 L374.5,52.2 L376.8,52.1 L379.0,52.7 L381.3,53.8 L383.7,54.3 L385.9,55.4 L388.2,55.5 L390.7,56.6 L393.1,57.1 L395.5,58.3 L397.8,59.3 L400.1,61.2 L402.4,62.4 L404.6,63.8 L406.9,65.7 L409.2,67.6 L411.5,69.4 L413.8,71.9 L416.1,73.7 L418.4,76.1 L420.8,78.2 L423.2,79.9 L425.6,82.1 L427.9,83.9 L430.2,85.0 L432.8,86.9 L435.2,87.5 L437.6,88.5 L440.0,89.5 L442.5,90.7 L445.1,92.3 L447.6,93.2 L450.1,94.8 L452.4,95.6 L454.6,97.0 L456.8,98.3 L459.0,100.2 L461.8,103.2 L464.4,105.8 L467.4,108.8 L469.4,110.1 L471.4,111.6 L473.6,113.4 L476.0,115.6 L478.6,117.2 L480.8,118.9 L483.2,120.3 L485.7,121.6 L488.3,123.2 L490.9,125.0 L493.3,126.2 L495.4,127.6 L497.9,129.1 L500.0,130.0 L502.0,131.4 L504.1,131.7 L506.6,133.2 L508.9,133.4 L511.5,134.8 L514.3,135.2 L517.1,135.8 L519.7,136.9 L521.9,137.5 L523.4,137.8' stroke='#7070f0'/>
<path d='M363.3,63.8 L364.8,64.2 L367.0,63.4 L369.6,63.5 L372.2,62.9 L374.5,61.7 L376.8,60.4 L379.0,58.4 L381.3,56.5 L383.7,55.1 L385.9,53.9 L388.2,52.3 L390.7,51.5 L393.1,50.8 L395.5,50.3 L397.8,49.9 L400.1,50.4 L402.4,50.9 L404.6,52.0 L406.9,52.8 L409.2,53.8 L411.5,54.8 L413.8,56.8 L416.1,57.9 L418.4,59.4 L420.8,60.7 L423.2,62.5 L425.6,64.1 L427.9,65.4 L430.2,66.7 L432.8,67.8 L435.2,68.8 L437.6,69.5 L440.0,71.0 L442.5,72.1 L445.1,73.0 L447.6,74.5 L450.1,76.2 L452.4,78.7 L454.6,81.6 L456.8,84.8 L459.0,87.7 L461.8,90.8 L464.4,94.7 L467.4,98.0 L469.4,100.7 L471.4,103.4 L473.6,105.8 L476.0,108.2 L478.6,110.8 L480.8,112.7 L483.2,114.3 L485.7,116.0 L488.3,117.5 L490.9,118.9 L493.3,120.1 L495.4,121.1 L497.9,123.2 L500.0,123.8 L502.0,125.6 L504.1,126.6 L506.6,127.5 L508.9,128.4 L511.5,129.8 L514.3,130.4 L517.1,131.7 L519.7,132.4 L521.9,133.2 L523.4,134.0' stroke='#f07878'/>
<path d='M363.3,75.7 L364.8,73.9 L367.0,71.3 L369.6,67.8 L372.2,64.4 L374.5,61.9 L376.8,58.8 L379.0,56.3 L381.3,53.8 L383.7,52.7 L385.9,51.8 L388.2,52.1 L390.7,53.0 L393.1,52.9 L395.5,53.5 L397.8,53.5 L400.1,53.7 L402.4,53.9 L404.6,54.5 L406.9,55.2 L409.2,56.0 L411.5,58.0 L413.8,59.6 L416.1,61.2 L418.4,62.9 L420.8,64.3 L423.2,65.7 L425.6,67.3 L427.9,68.2 L430.2,68.7 L432.8,70.1 L435.2,70.9 L437.6,71.7 L440.0,73.1 L442.5,73.4 L445.1,74.7 L447.6,75.8 L450.1,76.7 L452.4,79.1 L454.6,82.2 L456.8,84.6 L459.0,87.5 L461.8,90.3 L464.4,93.4 L467.4,96.2 L469.4,98.2 L471.4,100.1 L473.6,102.2 L476.0,104.9 L478.6,106.4 L480.8,107.7 L483.2,108.8 L485.7,110.5 L488.3,111.4 L490.9,112.3 L493.3,113.2 L495.4,114.3 L497.9,115.1 L500.0,115.8 L502.0,116.8 L504.1,117.5 L506.6,118.2 L508.9,119.1 L511.5,119.1 L514.3,119.8 L517.1,120.4 L519.7,121.4 L521.9,121.9 L523.4,122.2' stroke='#c0c070'/>
<path d='M363.3,68.8 L364.8,68.7 L367.0,68.4 L369.6,67.6 L372.2,66.9 L374.5,66.7 L376.8,65.4 L379.0,63.8 L381.3,62.8 L383.7,62.0 L385.9,61.6 L388.2,61.5 L390.7,61.7 L393.1,61.7 L395.5,62.2 L397.8,62.3 L400.1,62.7 L402.4,63.9 L404.6,64.3 L406.9,65.2 L409.2,66.2 L411.5,67.7 L413.8,69.2 L416.1,70.1 L418.4,71.6 L420.8,72.6 L423.2,73.1 L425.6,74.2 L427.9,75.1 L430.2,76.1 L432.8,77.2 L435.2,77.8 L437.6,79.3 L440.0,80.0 L442.5,81.1 L445.1,82.0 L447.6,82.7 L450.1,84.3 L452.4,85.8 L454.6,87.4 L456.8,89.8 L459.0,91.5 L461.8,95.4 L464.4,98.4 L467.4,102.6 L469.4,104.5 L471.4,106.4 L473.6,108.7 L476.0,111.2 L478.6,113.0 L480.8,114.3 L483.2,115.7 L485.7,116.6 L488.3,118.1 L490.9,119.6 L493.3,120.2 L495.4,121.3 L497.9,122.8 L500.0,123.6 L502.0,124.0 L504.1,125.1 L506.6,125.2 L508.9,126.1 L511.5,126.9 L514.3,127.4 L517.1,127.8 L519.7,128.1 L521.9,129.0 L523.4,128.9' stroke='#a85858'/>
<path d='M363.3,70.0 L364.8,69.7 L367.0,69.0 L369.6,68.8 L372.2,67.9 L374.5,67.9 L376.8,67.5 L379.0,67.8 L381.3,68.0 L383.7,67.4 L385.9,67.8 L388.2,66.7 L390.7,66.8 L393.1,66.0 L395.5,66.7 L397.8,67.3 L400.1,68.4 L402.4,69.9 L404.6,71.5 L406.9,72.3 L409.2,73.7 L411.5,74.0 L413.8,75.0 L416.1,76.1 L418.4,77.1 L420.8,78.3 L423.2,79.4 L425.6,80.3 L427.9,81.6 L430.2,82.9 L432.8,84.4 L435.2,86.6 L437.6,88.4 L440.0,89.7 L442.5,90.9 L445.1,91.6 L447.6,93.2 L450.1,94.5 L452.4,96.4 L454.6,99.2 L456.8,101.7 L459.0,104.1 L461.8,108.7 L464.4,113.0 L467.4,116.8 L469.4,118.6 L471.4,120.2 L473.6,121.5 L476.0,122.0 L478.6,123.4 L480.8,124.5 L483.2,125.2 L485.7,126.7 L488.3,127.4 L490.9,128.4 L493.3,128.8 L495.4,129.8 L497.9,130.3 L500.0,130.6 L502.0,131.2 L504.1,131.7 L506.6,131.6 L508.9,132.4 L511.5,132.8 L514.3,133.3 L517.1,133.5 L519.7,134.2 L521.9,134.2 L523.4,134.8' stroke='#f04848'/>
<path d='M363.3,83.0 L364.8,81.6 L367.0,80.2 L369.6,78.2 L372.2,76.3 L374.5,74.4 L376.8,72.9 L379.0,71.5 L381.3,69.9 L383.7,68.9 L385.9,68.2 L388.2,68.2 L390.7,68.0 L393.1,68.0 L395.5,68.0 L397.8,67.9 L400.1,68.0 L402.4,67.6 L404.6,68.2 L406.9,68.8 L409.2,69.9 L411.5,71.4 L413.8,73.0 L416.1,74.8 L418.4,75.8 L420.8,77.2 L423.2,78.8 L425.6,79.5 L427.9,80.6 L430.2,81.5 L432.8,82.9 L435.2,83.5 L437.6,83.9 L440.0,84.2 L442.5,85.2 L445.1,85.4 L447.6,86.6 L450.1,87.9 L452.4,89.5 L454.6,91.1 L456.8,93.5 L459.0,95.9 L461.8,99.7 L464.4,103.2 L467.4,106.5 L469.4,108.4 L471.4,110.2 L473.6,112.6 L476.0,114.1 L478.6,116.2 L480.8,117.3 L483.2,118.4 L485.7,119.9 L488.3,120.3 L490.9,121.4 L493.3,122.6 L495.4,123.1 L497.9,124.8 L500.0,125.1 L502.0,126.5 L504.1,127.0 L506.6,127.9 L508.9,128.1 L511.5,128.7 L514.3,130.0 L517.1,130.3 L519.7,131.3 L521.9,131.2 L523.4,131.9' stroke='#904890'/>
<path d='M363.3,85.0 L364.8,84.7 L367.0,83.0 L369.6,81.9 L372.2,80.2 L374.5,79.3 L376.8,78.7 L379.0,78.1 L381.3,77.6 L383.7,77.0 L385.9,76.6 L388.2,76.8 L390.7,76.5 L393.1,76.5 L395.5,76.8 L397.8,77.4 L400.1,77.8 L402.4,78.1 L404.6,78.8 L406.9,79.3 L409.2,80.5 L411.5,81.1 L413.8,82.3 L416.1,83.1 L418.4,84.1 L420.8,85.1 L423.2,85.6 L425.6,86.1 L427.9,86.6 L430.2,87.9 L432.8,88.5 L435.2,89.5 L437.6,90.7 L440.0,91.9 L442.5,92.9 L445.1,93.9 L447.6,95.3 L450.1,96.6 L452.4,98.6 L454.6,100.4 L456.8,102.5 L459.0,104.3 L461.8,107.6 L464.4,111.8 L467.4,115.2 L469.4,116.7 L471.4,118.6 L473.6,120.0 L476.0,122.1 L478.6,123.4 L480.8,124.2 L483.2,125.8 L485.7,126.6 L488.3,127.7 L490.9,128.1 L493.3,129.3 L495.4,129.9 L497.9,130.4 L500.0,131.3 L502.0,131.9 L504.1,132.1 L506.6,133.1 L508.9,133.3 L511.5,134.3 L514.3,134.7 L517.1,135.3 L519.7,135.6 L521.9,135.7 L523.4,136.1' stroke='#40b088'/>
<path d='M363.3,89.6 L364.8,88.5 L367.0,87.2 L369.6,86.1 L372.2,84.0 L374.5,83.1 L376.8,81.9 L379.0,80.7 L381.3,79.7 L383.7,79.6 L385.9,79.4 L388.2,78.9 L390.7,79.0 L393.1,78.9 L395.5,79.5 L397.8,79.8 L400.1,79.8 L402.4,80.9 L404.6,81.3 L406.9,81.6 L409.2,82.1 L411.5,82.8 L413.8,84.1 L416.1,84.7 L418.4,85.5 L420.8,86.1 L423.2,86.8 L425.6,87.7 L427.9,89.0 L430.2,90.1 L432.8,90.8 L435.2,91.6 L437.6,92.8 L440.0,93.9 L442.5,95.4 L445.1,96.1 L447.6,97.6 L450.1,99.0 L452.4,101.0 L454.6,102.3 L456.8,104.6 L459.0,106.8 L461.8,109.9 L464.4,113.7 L467.4,117.4 L469.4,118.7 L471.4,120.5 L473.6,122.4 L476.0,124.1 L478.6,125.6 L480.8,126.2 L483.2,127.0 L485.7,128.4 L488.3,129.1 L490.9,129.4 L493.3,130.0 L495.4,130.9 L497.9,131.5 L500.0,132.1 L502.0,132.5 L504.1,133.7 L506.6,134.1 L508.9,134.1 L511.5,134.7 L514.3,135.8 L517.1,136.1 L519.7,136.3 L521.9,136.9 L523.4,137.2' stroke='#80b0e0'/>
<path d='M363.3,94.6 L364.8,93.8 L367.0,93.2 L369.6,92.4 L372.2,91.8 L374.5,91.4 L376.8,90.7 L379.0,90.5 L381.3,89.9 L383.7,89.8 L385.9,90.0 L388.2,90.0 L390.7,89.5 L393.1,89.6 L395.5,89.6 L397.8,89.8 L400.1,90.3 L402.4,90.2 L404.6,90.9 L406.9,91.4 L409.2,92.0 L411.5,92.5 L413.8,93.1 L416.1,93.7 L418.4,94.7 L420.8,95.2 L423.2,95.9 L425.6,96.8 L427.9,97.2 L430.2,97.8 L432.8,98.4 L435.2,99.4 L437.6,99.9 L440.0,100.2 L442.5,101.2 L445.1,102.0 L447.6,102.7 L450.1,104.0 L452.4,104.7 L454.6,106.1 L456.8,107.2 L459.0,108.7 L461.8,110.9 L464.4,113.6 L467.4,116.1 L469.4,117.5 L471.4,119.4 L473.6,120.8 L476.0,121.9 L478.6,123.6 L480.8,124.3 L483.2,125.3 L485.7,125.7 L488.3,126.1 L490.9,127.2 L493.3,127.7 L495.4,128.4 L497.9,128.8 L500.0,129.5 L502.0,129.9 L504.1,130.2 L506.6,130.5 L508.9,131.2 L511.5,131.9 L514.3,132.3 L517.1,132.9 L519.7,133.4 L521.9,133.6 L523.4,134.0' stroke='#f080f0'/>
<path d='M363.3,119.2 L364.8,119.3 L367.0,119.9 L369.6,121.0 L372.2,122.1 L374.5,122.1 L376.8,122.9 L379.0,123.3 L381.3,123.3 L383.7,123.7 L385.9,124.1 L388.2,124.7 L390.7,125.0 L393.1,125.4 L395.5,125.7 L397.8,125.7 L400.1,126.3 L402.4,126.2 L404.6,126.5 L406.9,126.4 L409.2,126.7 L411.5,127.4 L413.8,127.6 L416.1,127.9 L418.4,127.7 L420.8,127.8 L423.2,128.6 L425.6,128.9 L427.9,128.9 L430.2,128.7 L432.8,128.7 L435.2,128.1 L437.6,127.8 L440.0,127.9 L442.5,126.7 L445.1,126.2 L447.6,125.8 L450.1,125.6 L452.4,125.8 L454.6,126.9 L456.8,128.5 L459.0,129.6 L461.8,131.6 L464.4,133.3 L467.4,135.1 L469.4,135.8 L471.4,136.8 L473.6,138.1 L476.0,138.9 L478.6,139.5 L480.8,139.6 L483.2,139.9 L485.7,140.6 L488.3,140.9 L490.9,141.0 L493.3,141.4 L495.4,141.1 L497.9,141.6 L500.0,141.6 L502.0,142.0 L504.1,141.9 L506.6,142.3 L508.9,142.8 L511.5,143.0 L514.3,143.7 L517.1,143.9 L519.7,144.2 L521.9,144.5 L523.4,144.5' stroke='#90c0e0'/>
</g>
<text transform='translate(294.70,197.80)' font-size='14.2' font-weight='normal' text-anchor='start' fill='#000' stroke='#000' stroke-width='0.25' >Bb</text>
<text transform='translate(330.00,246.00) scale(1.2,1) rotate(-90)' font-size='8.9' font-weight='bold' text-anchor='middle' fill='#000' stroke='#000' stroke-width='0.15' >Fluorescence intensity</text>
<text transform='translate(341.20,245.40) scale(1.2,1) rotate(-90)' font-size='8.9' font-weight='bold' text-anchor='middle' fill='#000' stroke='#000' stroke-width='0.15' >(A.U.)</text>
<line x1='363.4' y1='204.3' x2='363.4' y2='290.2' stroke='#000' stroke-width='2'/>
<line x1='362.4' y1='289.2' x2='520' y2='289.2' stroke='#222' stroke-width='2'/>
<line x1='359.5' y1='289.20' x2='363.4' y2='289.20' stroke='#000' stroke-width='1.5'/>
<text transform='translate(359.00,291.60) scale(1.2,1)' font-size='6.4' font-weight='bold' text-anchor='end' fill='#000' stroke='#000' stroke-width='0.1' >0.0</text>
<line x1='359.5' y1='268.07' x2='363.4' y2='268.07' stroke='#000' stroke-width='1.5'/>
<text transform='translate(359.00,270.47) scale(1.2,1)' font-size='6.4' font-weight='bold' text-anchor='end' fill='#000' stroke='#000' stroke-width='0.1' >0.5</text>
<line x1='359.5' y1='246.95' x2='363.4' y2='246.95' stroke='#000' stroke-width='1.5'/>
<text transform='translate(359.00,249.35) scale(1.2,1)' font-size='6.4' font-weight='bold' text-anchor='end' fill='#000' stroke='#000' stroke-width='0.1' >1.0</text>
<line x1='359.5' y1='225.82' x2='363.4' y2='225.82' stroke='#000' stroke-width='1.5'/>
<text transform='translate(359.00,228.22) scale(1.2,1)' font-size='6.4' font-weight='bold' text-anchor='end' fill='#000' stroke='#000' stroke-width='0.1' >1.5</text>
<line x1='359.5' y1='204.70' x2='363.4' y2='204.70' stroke='#000' stroke-width='1.5'/>
<text transform='translate(359.00,207.10) scale(1.2,1)' font-size='6.4' font-weight='bold' text-anchor='end' fill='#000' stroke='#000' stroke-width='0.1' >2.0</text>
<line x1='402.4' y1='289' x2='402.4' y2='293' stroke='#000' stroke-width='1.5'/>
<line x1='480.9' y1='289' x2='480.9' y2='293' stroke='#000' stroke-width='1.5'/>
<text transform='translate(405.00,296.50) scale(1.25,1) rotate(-45)' font-size='9.6' font-weight='bold' text-anchor='end' fill='#000' stroke='#000' stroke-width='0.1' >Controls</text>
<text transform='translate(483.50,296.50) scale(1.25,1) rotate(-45)' font-size='9.6' font-weight='bold' text-anchor='end' fill='#000' stroke='#000' stroke-width='0.1' >Patients</text>
<path d='M400 215.4 V207 H479.5 V215.4' fill='none' stroke='#333' stroke-width='1.4'/>
<rect x='427.5' y='199.6' width='2.8' height='2.6' fill='#222'/>
<rect x='431.6' y='199.6' width='2.8' height='2.6' fill='#222'/>
<rect x='435.8' y='199.6' width='2.8' height='2.6' fill='#222'/>
<rect x='439.9' y='199.6' width='2.8' height='2.6' fill='#222'/>
<ellipse cx='402.40' cy='221.30' rx='2.1' ry='1.9' fill='#1020f0'/>
<ellipse cx='399.20' cy='249.00' rx='2.1' ry='1.9' fill='#1020f0'/>
<ellipse cx='392.60' cy='251.50' rx='2.1' ry='1.9' fill='#1020f0'/>
<ellipse cx='408.60' cy='249.60' rx='2.1' ry='1.9' fill='#1020f0'/>
<ellipse cx='412.30' cy='250.70' rx='2.1' ry='1.9' fill='#1020f0'/>
<ellipse cx='399.20' cy='254.80' rx='2.1' ry='1.9' fill='#1020f0'/>
<ellipse cx='405.70' cy='254.40' rx='2.1' ry='1.9' fill='#1020f0'/>
<ellipse cx='389.70' cy='257.60' rx='2.1' ry='1.9' fill='#1020f0'/>
<ellipse cx='414.90' cy='257.30' rx='2.1' ry='1.9' fill='#1020f0'/>
<ellipse cx='396.00' cy='260.50' rx='2.1' ry='1.9' fill='#1020f0'/>
<ellipse cx='408.60' cy='259.50' rx='2.1' ry='1.9' fill='#1020f0'/>
<ellipse cx='402.40' cy='261.70' rx='2.1' ry='1.9' fill='#1020f0'/>
<ellipse cx='378.80' cy='263.60' rx='2.1' ry='1.9' fill='#1020f0'/>
<ellipse cx='383.90' cy='263.60' rx='2.1' ry='1.9' fill='#1020f0'/>
<ellipse cx='389.00' cy='263.60' rx='2.1' ry='1.9' fill='#1020f0'/>
<ellipse cx='415.50' cy='263.60' rx='2.1' ry='1.9' fill='#1020f0'/>
<ellipse cx='420.80' cy='263.60' rx='2.1' ry='1.9' fill='#1020f0'/>
<ellipse cx='426.10' cy='263.60' rx='2.1' ry='1.9' fill='#1020f0'/>
<ellipse cx='409.40' cy='265.30' rx='2.1' ry='1.9' fill='#1020f0'/>
<ellipse cx='394.10' cy='266.80' rx='2.1' ry='1.9' fill='#1020f0'/>
<ellipse cx='399.90' cy='266.80' rx='2.1' ry='1.9' fill='#1020f0'/>
<ellipse cx='405.00' cy='266.80' rx='2.1' ry='1.9' fill='#1020f0'/>
<ellipse cx='402.40' cy='272.60' rx='2.1' ry='1.9' fill='#1020f0'/>
<ellipse cx='402.40' cy='279.50' rx='2.1' ry='1.9' fill='#1020f0'/>
<ellipse cx='405.80' cy='278.70' rx='2.1' ry='1.9' fill='#1020f0'/>
<ellipse cx='379.48' cy='268.70' rx='2.1' ry='1.9' fill='#1020f0'/>
<ellipse cx='384.58' cy='268.70' rx='2.1' ry='1.9' fill='#1020f0'/>
<ellipse cx='390.42' cy='268.70' rx='2.1' ry='1.9' fill='#1020f0'/>
<ellipse cx='396.25' cy='268.70' rx='2.1' ry='1.9' fill='#1020f0'/>
<ellipse cx='408.21' cy='268.70' rx='2.1' ry='1.9' fill='#1020f0'/>
<ellipse cx='413.75' cy='268.70' rx='2.1' ry='1.9' fill='#1020f0'/>
<ellipse cx='419.58' cy='268.70' rx='2.1' ry='1.9' fill='#1020f0'/>
<ellipse cx='425.71' cy='268.70' rx='2.1' ry='1.9' fill='#1020f0'/>
<ellipse cx='380.21' cy='276.00' rx='2.1' ry='1.9' fill='#1020f0'/>
<ellipse cx='386.33' cy='276.00' rx='2.1' ry='1.9' fill='#1020f0'/>
<ellipse cx='392.60' cy='276.00' rx='2.1' ry='1.9' fill='#1020f0'/>
<ellipse cx='412.00' cy='276.00' rx='2.1' ry='1.9' fill='#1020f0'/>
<ellipse cx='417.83' cy='276.00' rx='2.1' ry='1.9' fill='#1020f0'/>
<ellipse cx='424.25' cy='276.00' rx='2.1' ry='1.9' fill='#1020f0'/>
<ellipse cx='399.20' cy='279.90' rx='2.1' ry='1.9' fill='#1020f0'/>
<g stroke='#505050' stroke-width='1.5'><line x1='376.6' y1='264.6' x2='428.3' y2='264.6'/><line x1='389' y1='253.6' x2='416' y2='253.6'/><line x1='389' y1='275.1' x2='416' y2='275.1'/><line x1='402.4' y1='253.6' x2='402.4' y2='275.1'/></g>
<rect x='479.35' y='229.65' width='3.3' height='3.3' fill='#ff1a1a'/>
<rect x='482.75' y='240.05' width='3.3' height='3.3' fill='#ff1a1a'/>
<rect x='463.55' y='246.25' width='3.3' height='3.3' fill='#ff1a1a'/>
<rect x='469.75' y='246.45' width='3.3' height='3.3' fill='#ff1a1a'/>
<rect x='473.15' y='244.55' width='3.3' height='3.3' fill='#ff1a1a'/>
<rect x='488.95' y='246.45' width='3.3' height='3.3' fill='#ff1a1a'/>
<rect x='495.15' y='246.25' width='3.3' height='3.3' fill='#ff1a1a'/>
<rect x='454.85' y='250.55' width='3.3' height='3.3' fill='#ff1a1a'/>
<rect x='459.80' y='250.47' width='3.3' height='3.3' fill='#ff1a1a'/>
<rect x='464.75' y='250.39' width='3.3' height='3.3' fill='#ff1a1a'/>
<rect x='469.70' y='250.31' width='3.3' height='3.3' fill='#ff1a1a'/>
<rect x='474.65' y='250.23' width='3.3' height='3.3' fill='#ff1a1a'/>
<rect x='479.60' y='250.15' width='3.3' height='3.3' fill='#ff1a1a'/>
<rect x='484.55' y='250.23' width='3.3' height='3.3' fill='#ff1a1a'/>
<rect x='489.50' y='250.31' width='3.3' height='3.3' fill='#ff1a1a'/>
<rect x='494.45' y='250.39' width='3.3' height='3.3' fill='#ff1a1a'/>
<rect x='499.40' y='250.47' width='3.3' height='3.3' fill='#ff1a1a'/>
<rect x='504.35' y='250.55' width='3.3' height='3.3' fill='#ff1a1a'/>
<rect x='454.85' y='254.87' width='3.3' height='3.3' fill='#ff1a1a'/>
<rect x='459.80' y='255.23' width='3.3' height='3.3' fill='#ff1a1a'/>
<rect x='464.75' y='255.58' width='3.3' height='3.3' fill='#ff1a1a'/>
<rect x='469.70' y='255.94' width='3.3' height='3.3' fill='#ff1a1a'/>
<rect x='474.65' y='256.30' width='3.3' height='3.3' fill='#ff1a1a'/>
<rect x='479.60' y='256.65' width='3.3' height='3.3' fill='#ff1a1a'/>
<rect x='484.55' y='256.29' width='3.3' height='3.3' fill='#ff1a1a'/>
<rect x='489.50' y='255.93' width='3.3' height='3.3' fill='#ff1a1a'/>
<rect x='494.45' y='255.58' width='3.3' height='3.3' fill='#ff1a1a'/>
<rect x='499.40' y='255.22' width='3.3' height='3.3' fill='#ff1a1a'/>
<rect x='504.35' y='254.86' width='3.3' height='3.3' fill='#ff1a1a'/>
<rect x='454.85' y='257.19' width='3.3' height='3.3' fill='#ff1a1a'/>
<rect x='459.35' y='257.86' width='3.3' height='3.3' fill='#ff1a1a'/>
<rect x='463.85' y='258.53' width='3.3' height='3.3' fill='#ff1a1a'/>
<rect x='468.35' y='259.19' width='3.3' height='3.3' fill='#ff1a1a'/>
<rect x='472.85' y='259.86' width='3.3' height='3.3' fill='#ff1a1a'/>
<rect x='477.35' y='260.52' width='3.3' height='3.3' fill='#ff1a1a'/>
<rect x='481.85' y='260.51' width='3.3' height='3.3' fill='#ff1a1a'/>
<rect x='486.35' y='259.84' width='3.3' height='3.3' fill='#ff1a1a'/>
<rect x='490.85' y='259.18' width='3.3' height='3.3' fill='#ff1a1a'/>
<rect x='495.35' y='258.51' width='3.3' height='3.3' fill='#ff1a1a'/>
<rect x='499.85' y='257.85' width='3.3' height='3.3' fill='#ff1a1a'/>
<rect x='504.35' y='257.18' width='3.3' height='3.3' fill='#ff1a1a'/>
<rect x='455.85' y='262.87' width='3.3' height='3.3' fill='#ff1a1a'/>
<rect x='461.13' y='263.78' width='3.3' height='3.3' fill='#ff1a1a'/>
<rect x='466.41' y='264.69' width='3.3' height='3.3' fill='#ff1a1a'/>
<rect x='471.68' y='265.60' width='3.3' height='3.3' fill='#ff1a1a'/>
<rect x='476.96' y='266.50' width='3.3' height='3.3' fill='#ff1a1a'/>
<rect x='482.24' y='266.49' width='3.3' height='3.3' fill='#ff1a1a'/>
<rect x='487.52' y='265.58' width='3.3' height='3.3' fill='#ff1a1a'/>
<rect x='492.79' y='264.67' width='3.3' height='3.3' fill='#ff1a1a'/>
<rect x='498.07' y='263.76' width='3.3' height='3.3' fill='#ff1a1a'/>
<rect x='503.35' y='262.86' width='3.3' height='3.3' fill='#ff1a1a'/>
<rect x='456.35' y='268.57' width='3.3' height='3.3' fill='#ff1a1a'/>
<rect x='461.52' y='269.50' width='3.3' height='3.3' fill='#ff1a1a'/>
<rect x='466.68' y='270.43' width='3.3' height='3.3' fill='#ff1a1a'/>
<rect x='471.85' y='271.36' width='3.3' height='3.3' fill='#ff1a1a'/>
<rect x='477.02' y='272.29' width='3.3' height='3.3' fill='#ff1a1a'/>
<rect x='482.18' y='272.28' width='3.3' height='3.3' fill='#ff1a1a'/>
<rect x='487.35' y='271.35' width='3.3' height='3.3' fill='#ff1a1a'/>
<rect x='492.52' y='270.42' width='3.3' height='3.3' fill='#ff1a1a'/>
<rect x='497.68' y='269.49' width='3.3' height='3.3' fill='#ff1a1a'/>
<rect x='502.85' y='268.56' width='3.3' height='3.3' fill='#ff1a1a'/>
<rect x='460.15' y='275.09' width='3.3' height='3.3' fill='#ff1a1a'/>
<rect x='466.55' y='276.17' width='3.3' height='3.3' fill='#ff1a1a'/>
<rect x='472.95' y='277.24' width='3.3' height='3.3' fill='#ff1a1a'/>
<rect x='479.35' y='278.32' width='3.3' height='3.3' fill='#ff1a1a'/>
<rect x='485.75' y='277.31' width='3.3' height='3.3' fill='#ff1a1a'/>
<rect x='492.15' y='276.23' width='3.3' height='3.3' fill='#ff1a1a'/>
<rect x='498.55' y='275.16' width='3.3' height='3.3' fill='#ff1a1a'/>
<g stroke='#505050' stroke-width='1.5'><line x1='455' y1='262.5' x2='507.5' y2='262.5'/><line x1='467.7' y1='252.2' x2='494.2' y2='252.2'/><line x1='467.7' y1='272.8' x2='494.2' y2='272.8'/><line x1='481.2' y1='252.2' x2='481.2' y2='272.8'/></g>
<text transform='translate(295.30,365.30)' font-size='14.2' font-weight='normal' text-anchor='start' fill='#000' stroke='#000' stroke-width='0.25' >Bc</text>
<text transform='translate(357.60,356.30) scale(0.955,1)' font-size='9.8' font-weight='bold' text-anchor='start' fill='#000' stroke='#000' stroke-width='0.25' >ROC curve for AuNPs assay</text>
<line x1='346.4' y1='366.5' x2='346.4' y2='474.8' stroke='#000' stroke-width='2'/>
<line x1='345.4' y1='473.8' x2='492' y2='473.8' stroke='#000' stroke-width='2'/>
<line x1='343' y1='473.80' x2='346.4' y2='473.80' stroke='#000' stroke-width='1.6'/>
<text transform='translate(344.00,476.20) scale(1.18,1)' font-size='6.6' font-weight='bold' text-anchor='end' fill='#000' stroke='#000' stroke-width='0.15' >0</text>
<line x1='346.40' y1='473.8' x2='346.40' y2='477.0' stroke='#000' stroke-width='1.6'/>
<text transform='translate(346.40,484.80) scale(1.15,1)' font-size='6.6' font-weight='bold' text-anchor='middle' fill='#000' stroke='#000' stroke-width='0.15' >0</text>
<line x1='343' y1='452.52' x2='346.4' y2='452.52' stroke='#000' stroke-width='1.6'/>
<text transform='translate(344.00,454.92) scale(1.18,1)' font-size='6.6' font-weight='bold' text-anchor='end' fill='#000' stroke='#000' stroke-width='0.15' >20</text>
<line x1='375.40' y1='473.8' x2='375.40' y2='477.0' stroke='#000' stroke-width='1.6'/>
<text transform='translate(375.40,484.80) scale(1.15,1)' font-size='6.6' font-weight='bold' text-anchor='middle' fill='#000' stroke='#000' stroke-width='0.15' >20</text>
<line x1='343' y1='431.24' x2='346.4' y2='431.24' stroke='#000' stroke-width='1.6'/>
<text transform='translate(344.00,433.64) scale(1.18,1)' font-size='6.6' font-weight='bold' text-anchor='end' fill='#000' stroke='#000' stroke-width='0.15' >40</text>
<line x1='404.40' y1='473.8' x2='404.40' y2='477.0' stroke='#000' stroke-width='1.6'/>
<text transform='translate(404.40,484.80) scale(1.15,1)' font-size='6.6' font-weight='bold' text-anchor='middle' fill='#000' stroke='#000' stroke-width='0.15' >40</text>
<line x1='343' y1='409.96' x2='346.4' y2='409.96' stroke='#000' stroke-width='1.6'/>
<text transform='translate(344.00,412.36) scale(1.18,1)' font-size='6.6' font-weight='bold' text-anchor='end' fill='#000' stroke='#000' stroke-width='0.15' >60</text>
<line x1='433.40' y1='473.8' x2='433.40' y2='477.0' stroke='#000' stroke-width='1.6'/>
<text transform='translate(433.40,484.80) scale(1.15,1)' font-size='6.6' font-weight='bold' text-anchor='middle' fill='#000' stroke='#000' stroke-width='0.15' >60</text>
<line x1='343' y1='388.68' x2='346.4' y2='388.68' stroke='#000' stroke-width='1.6'/>
<text transform='translate(344.00,391.08) scale(1.18,1)' font-size='6.6' font-weight='bold' text-anchor='end' fill='#000' stroke='#000' stroke-width='0.15' >80</text>
<line x1='462.40' y1='473.8' x2='462.40' y2='477.0' stroke='#000' stroke-width='1.6'/>
<text transform='translate(462.40,484.80) scale(1.15,1)' font-size='6.6' font-weight='bold' text-anchor='middle' fill='#000' stroke='#000' stroke-width='0.15' >80</text>
<line x1='343' y1='367.40' x2='346.4' y2='367.40' stroke='#000' stroke-width='1.6'/>
<text transform='translate(344.00,369.80) scale(1.18,1)' font-size='6.6' font-weight='bold' text-anchor='end' fill='#000' stroke='#000' stroke-width='0.15' >100</text>
<line x1='491.40' y1='473.8' x2='491.40' y2='477.0' stroke='#000' stroke-width='1.6'/>
<text transform='translate(491.40,484.80) scale(1.15,1)' font-size='6.6' font-weight='bold' text-anchor='middle' fill='#000' stroke='#000' stroke-width='0.15' >100</text>
<text transform='translate(327.00,416.70) scale(1.2,1) rotate(-90)' font-size='7.7' font-weight='bold' text-anchor='middle' fill='#000' stroke='#000' stroke-width='0.2' >Sensitivity (%)</text>
<text transform='translate(380.20,498.20) scale(0.93,1)' font-size='8.4' font-weight='bold' text-anchor='start' fill='#000' stroke='#000' stroke-width='0.2' >100% - Specificity (%)</text>
<line x1='346.8' y1='473.6' x2='495' y2='368.8' stroke='#ff1a1a' stroke-width='1.4'/>
<path d='M346.8,473.3 V450 L349,447.5 H355 L357,446 L361.3,440.8 H363 V424 L367.1,422 L370,421.4 H379.9 V412 L383.5,410 L387.8,408.2 L391.3,406 V398 L393.5,397 L395.4,395.8 H413 L415,393 V386.5 L417,385.5 H430 L433,383.5 L438,381 L442,378 L444,374.8 H457.7 L459.5,372.3 H483 L484.5,368.5 L486,367.5 H494' fill='none' stroke='#000' stroke-width='3.7' stroke-linejoin='miter'/>
<circle cx='346.8' cy='470.0' r='2.3' fill='#000'/>
<circle cx='346.8' cy='466.0' r='2.3' fill='#000'/>
<circle cx='346.8' cy='462.0' r='2.3' fill='#000'/>
<circle cx='347.2' cy='458.0' r='2.3' fill='#000'/>
<circle cx='347.5' cy='454.0' r='2.3' fill='#000'/>
<circle cx='348.0' cy='450.0' r='2.3' fill='#000'/>
<circle cx='351.0' cy='447.5' r='2.3' fill='#000'/>
<circle cx='355.0' cy='447.0' r='2.3' fill='#000'/>
<circle cx='358.5' cy='444.0' r='2.3' fill='#000'/>
<circle cx='361.3' cy='440.8' r='2.3' fill='#000'/>
<circle cx='363.0' cy='436.0' r='2.3' fill='#000'/>
<circle cx='363.0' cy='431.0' r='2.3' fill='#000'/>
<circle cx='363.0' cy='426.0' r='2.3' fill='#000'/>
<circle cx='367.1' cy='422.0' r='2.3' fill='#000'/>
<circle cx='371.0' cy='421.4' r='2.3' fill='#000'/>
<circle cx='375.0' cy='421.4' r='2.3' fill='#000'/>
<circle cx='379.9' cy='419.0' r='2.3' fill='#000'/>
<circle cx='379.9' cy='414.0' r='2.3' fill='#000'/>
<circle cx='383.5' cy='410.0' r='2.3' fill='#000'/>
<circle cx='387.8' cy='408.2' r='2.3' fill='#000'/>
<circle cx='391.3' cy='404.0' r='2.3' fill='#000'/>
<circle cx='391.3' cy='400.0' r='2.3' fill='#000'/>
<circle cx='393.5' cy='397.0' r='2.3' fill='#000'/>
<circle cx='398.0' cy='395.8' r='2.3' fill='#000'/>
<circle cx='402.0' cy='395.8' r='2.3' fill='#000'/>
<circle cx='406.0' cy='395.8' r='2.3' fill='#000'/>
<circle cx='410.0' cy='395.8' r='2.3' fill='#000'/>
<circle cx='413.0' cy='395.5' r='2.3' fill='#000'/>
<circle cx='415.0' cy='390.0' r='2.3' fill='#000'/>
<circle cx='418.0' cy='385.5' r='2.3' fill='#000'/>
<circle cx='422.0' cy='385.5' r='2.3' fill='#000'/>
<circle cx='426.0' cy='385.5' r='2.3' fill='#000'/>
<circle cx='430.0' cy='385.5' r='2.3' fill='#000'/>
<circle cx='433.0' cy='383.5' r='2.3' fill='#000'/>
<circle cx='437.0' cy='381.5' r='2.3' fill='#000'/>
<circle cx='441.0' cy='378.5' r='2.3' fill='#000'/>
<circle cx='444.0' cy='375.0' r='2.3' fill='#000'/>
<circle cx='448.0' cy='374.8' r='2.3' fill='#000'/>
<circle cx='452.0' cy='374.8' r='2.3' fill='#000'/>
<circle cx='456.0' cy='374.8' r='2.3' fill='#000'/>
<circle cx='460.0' cy='372.3' r='2.3' fill='#000'/>
<circle cx='464.0' cy='372.3' r='2.3' fill='#000'/>
<circle cx='468.0' cy='372.3' r='2.3' fill='#000'/>
<circle cx='472.0' cy='372.3' r='2.3' fill='#000'/>
<circle cx='476.0' cy='372.3' r='2.3' fill='#000'/>
<circle cx='480.0' cy='372.3' r='2.3' fill='#000'/>
<circle cx='484.5' cy='369.0' r='2.3' fill='#000'/>
<circle cx='488.0' cy='367.5' r='2.3' fill='#000'/>
<circle cx='492.0' cy='367.5' r='2.3' fill='#000'/>
<rect x='419.8' y='425.3' width='119.20' height='44.50' fill='#fff' stroke='#444' stroke-width='1'/>
<line x1='419.8' y1='436.43' x2='539' y2='436.43' stroke='#444' stroke-width='1'/>
<line x1='419.8' y1='447.55' x2='539' y2='447.55' stroke='#444' stroke-width='1'/>
<line x1='419.8' y1='458.68' x2='539' y2='458.68' stroke='#444' stroke-width='1'/>
<line x1='492.8' y1='425.3' x2='492.8' y2='469.8' stroke='#444' stroke-width='1'/>
<text transform='translate(422.80,433.81) scale(0.72,1)' font-size='8.2' font-weight='normal' text-anchor='start' fill='#111' stroke='#111' stroke-width='0.25' >Area under the curve</text>
<text transform='translate(495.80,433.81) scale(0.72,1)' font-size='8.2' font-weight='normal' text-anchor='start' fill='#111' stroke='#111' stroke-width='0.25' >0.7303</text>
<text transform='translate(422.80,444.94) scale(0.72,1)' font-size='8.2' font-weight='normal' text-anchor='start' fill='#111' stroke='#111' stroke-width='0.25' >Std. error</text>
<text transform='translate(495.80,444.94) scale(0.72,1)' font-size='8.2' font-weight='normal' text-anchor='start' fill='#111' stroke='#111' stroke-width='0.25' >0.04317</text>
<text transform='translate(422.80,456.06) scale(0.72,1)' font-size='8.2' font-weight='normal' text-anchor='start' fill='#111' stroke='#111' stroke-width='0.25' >95% confidence interval</text>
<text transform='translate(495.80,456.06) scale(0.72,1)' font-size='8.2' font-weight='normal' text-anchor='start' fill='#111' stroke='#111' stroke-width='0.25' >0.6456-0.8149</text>
<text transform='translate(422.80,467.19) scale(0.72,1)' font-size='8.2' font-weight='normal' text-anchor='start' fill='#111' stroke='#111' stroke-width='0.25' >P value</text>
<text transform='translate(495.80,467.19) scale(0.72,1)' font-size='8.2' font-weight='normal' text-anchor='start' fill='#111' stroke='#111' stroke-width='0.25' >&lt;0.0001</text>
</svg></body></html>
